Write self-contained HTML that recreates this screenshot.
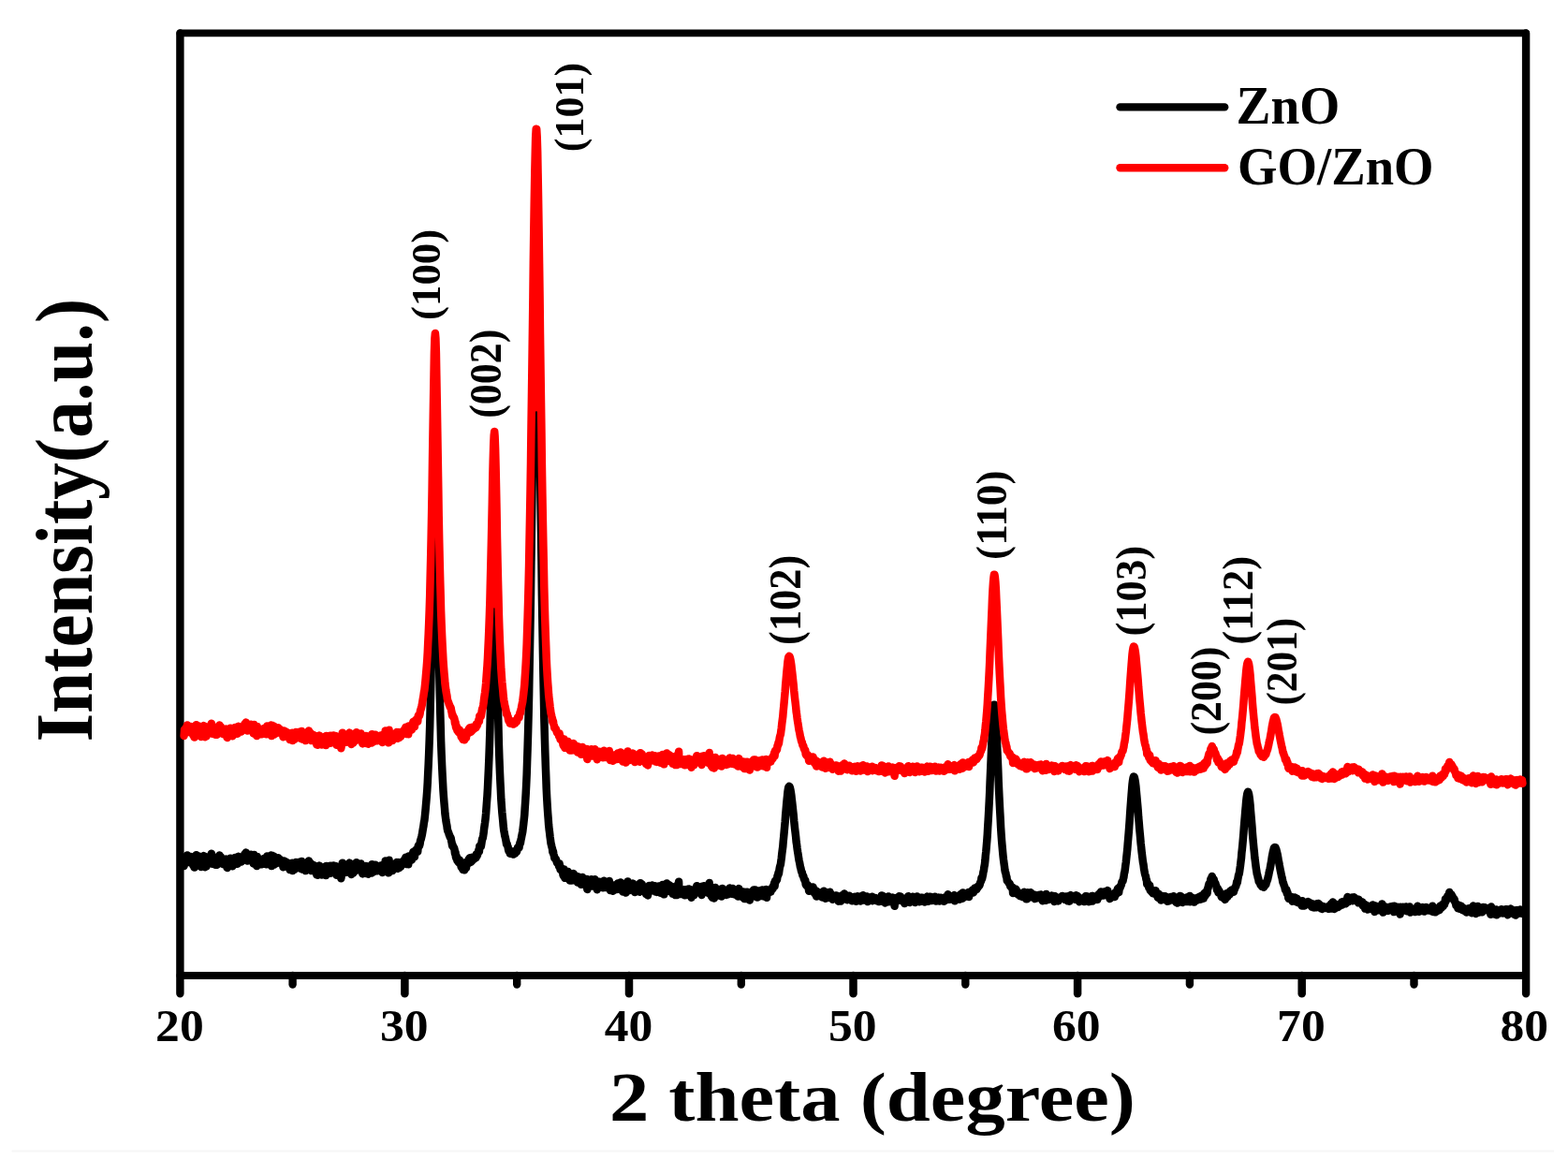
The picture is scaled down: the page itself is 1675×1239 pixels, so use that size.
<!DOCTYPE html>
<html lang="en"><head><meta charset="utf-8"><title>XRD patterns of ZnO and GO/ZnO</title>
<style>html,body{margin:0;padding:0;background:#fff}body{width:1675px;height:1239px;overflow:hidden}main,figure{margin:0;padding:0;display:block}svg{display:block}text{font-family:"Liberation Serif","DejaVu Serif",serif;font-weight:bold;fill:#000}</style></head><body>
<main><figure>
<svg width="1675" height="1239" viewBox="0 0 1675 1239" role="img" aria-label="XRD patterns of ZnO and GO/ZnO, intensity versus 2 theta">
<defs><filter id="soft" x="0" y="0" width="1675" height="1239" filterUnits="userSpaceOnUse"><feGaussianBlur stdDeviation="0.55"/></filter></defs>
<rect width="1675" height="1239" fill="#fff"/>
<g filter="url(#soft)">
<line x1="12.5" y1="1229.4" x2="1660" y2="1229.4" stroke="#f6f6f6" stroke-width="2"/>
<g fill="none" stroke="#000" stroke-linecap="round" stroke-linejoin="round">
<path d="M192.4,1061.3 V35.4 M1630.1,35.4 V1061.3" stroke-width="8.4"/>
<path d="M192.4,35.4 H1630.1 M192.4,1042 H1630.1" stroke-width="7.8"/>
<line x1="312.6" y1="1042" x2="312.6" y2="1051.6" stroke-width="8.4"/>
<line x1="432.4" y1="1042" x2="432.4" y2="1061.3" stroke-width="8.5"/>
<line x1="552.2" y1="1042" x2="552.2" y2="1051.6" stroke-width="8.4"/>
<line x1="672.0" y1="1042" x2="672.0" y2="1061.3" stroke-width="8.5"/>
<line x1="791.8" y1="1042" x2="791.8" y2="1051.6" stroke-width="8.4"/>
<line x1="911.5" y1="1042" x2="911.5" y2="1061.3" stroke-width="8.5"/>
<line x1="1031.3" y1="1042" x2="1031.3" y2="1051.6" stroke-width="8.4"/>
<line x1="1151.1" y1="1042" x2="1151.1" y2="1061.3" stroke-width="8.5"/>
<line x1="1270.9" y1="1042" x2="1270.9" y2="1051.6" stroke-width="8.4"/>
<line x1="1390.7" y1="1042" x2="1390.7" y2="1061.3" stroke-width="8.5"/>
<line x1="1510.5" y1="1042" x2="1510.5" y2="1051.6" stroke-width="8.4"/>
<line x1="1196.5" y1="114.4" x2="1308.2" y2="114.4" stroke-width="8.4"/>
<line x1="1196.5" y1="179.3" x2="1308.2" y2="179.3" stroke-width="8.4" stroke="#ff0000"/>
</g>
<g fill="none" stroke-width="8.5" stroke-linejoin="round" stroke-linecap="round">
<path stroke="#000" d="M196.6,925.0 L197.1,918.1 L197.5,919.4 L198.0,920.4 L198.5,916.4 L199.0,918.6 L199.4,918.9 L199.9,913.4 L200.4,921.1 L200.9,919.7 L201.4,916.8 L201.8,919.0 L202.3,921.1 L202.8,919.4 L203.3,918.9 L203.8,915.0 L204.2,921.3 L204.7,920.2 L205.2,921.0 L205.7,915.4 L206.2,924.3 L206.6,920.4 L207.1,918.9 L207.6,926.6 L208.1,920.5 L208.6,915.9 L209.0,918.8 L209.5,913.2 L210.0,923.2 L210.5,918.6 L210.9,917.6 L211.4,923.0 L211.9,915.5 L212.4,922.1 L212.9,914.7 L213.3,919.1 L213.8,917.1 L214.3,925.4 L214.8,926.0 L215.3,919.4 L215.7,923.2 L216.2,919.3 L216.7,920.9 L217.2,917.2 L217.7,914.1 L218.1,914.5 L218.6,920.3 L219.1,926.2 L219.6,920.5 L220.1,917.8 L220.5,925.2 L221.0,920.8 L221.5,920.9 L222.0,920.9 L222.4,919.6 L222.9,919.1 L223.4,914.9 L223.9,919.3 L224.4,917.5 L224.8,921.1 L225.3,916.6 L225.8,911.7 L226.3,917.6 L226.8,922.7 L227.2,916.7 L227.7,915.6 L228.2,915.7 L228.7,916.3 L229.2,918.6 L229.6,916.0 L230.1,923.7 L230.6,918.4 L231.1,919.3 L231.6,923.4 L232.0,923.7 L232.5,919.0 L233.0,919.7 L233.5,921.1 L233.9,918.3 L234.4,913.5 L234.9,920.0 L235.4,921.0 L235.9,919.4 L236.3,915.6 L236.8,917.3 L237.3,917.1 L237.8,917.8 L238.3,922.1 L238.7,923.3 L239.2,921.4 L239.7,920.8 L240.2,921.5 L240.7,919.6 L241.1,920.0 L241.6,917.6 L242.1,919.6 L242.6,926.9 L243.1,922.7 L243.5,919.4 L244.0,919.4 L244.5,918.3 L245.0,922.0 L245.4,921.9 L245.9,916.7 L246.4,922.9 L246.9,919.0 L247.4,924.9 L247.8,920.7 L248.3,925.2 L248.8,919.1 L249.3,919.1 L249.8,921.3 L250.2,923.2 L250.7,920.7 L251.2,915.9 L251.7,919.2 L252.2,919.5 L252.6,918.2 L253.1,916.0 L253.6,922.7 L254.1,915.6 L254.6,914.8 L255.0,918.9 L255.5,917.1 L256.0,917.1 L256.5,918.8 L256.9,917.9 L257.4,918.0 L257.9,920.6 L258.4,919.5 L258.9,916.2 L259.3,916.5 L259.8,915.6 L260.3,917.8 L260.8,914.2 L261.3,912.3 L261.7,917.9 L262.2,913.0 L262.7,910.6 L263.2,918.1 L263.7,915.8 L264.1,919.5 L264.6,916.3 L265.1,914.8 L265.6,914.2 L266.1,916.7 L266.5,917.5 L267.0,916.0 L267.5,916.2 L268.0,912.7 L268.4,918.1 L268.9,913.0 L269.4,917.2 L269.9,919.0 L270.4,920.7 L270.8,922.5 L271.3,913.0 L271.8,920.7 L272.3,921.7 L272.8,920.6 L273.2,915.5 L273.7,919.5 L274.2,925.1 L274.7,915.0 L275.2,921.1 L275.6,923.4 L276.1,918.4 L276.6,922.8 L277.1,918.3 L277.6,918.2 L278.0,919.1 L278.5,921.2 L279.0,920.0 L279.5,923.3 L279.9,917.8 L280.4,919.8 L280.9,922.6 L281.4,921.5 L281.9,917.1 L282.3,922.2 L282.8,918.6 L283.3,921.2 L283.8,920.9 L284.3,923.3 L284.7,919.9 L285.2,914.5 L285.7,916.1 L286.2,921.4 L286.7,918.7 L287.1,923.1 L287.6,920.7 L288.1,917.5 L288.6,922.4 L289.1,917.4 L289.5,913.6 L290.0,925.1 L290.5,913.8 L291.0,921.2 L291.4,922.1 L291.9,919.9 L292.4,914.5 L292.9,923.4 L293.4,915.6 L293.8,916.0 L294.3,919.4 L294.8,922.3 L295.3,920.6 L295.8,922.0 L296.2,918.0 L296.7,919.6 L297.2,916.3 L297.7,919.0 L298.2,921.4 L298.6,918.7 L299.1,921.3 L299.6,918.3 L300.1,918.9 L300.6,921.1 L301.0,919.9 L301.5,922.4 L302.0,921.4 L302.5,926.3 L302.9,920.4 L303.4,921.6 L303.9,919.6 L304.4,922.8 L304.9,924.8 L305.3,920.5 L305.8,922.5 L306.3,924.9 L306.8,922.4 L307.3,921.6 L307.7,925.3 L308.2,923.8 L308.7,925.3 L309.2,927.9 L309.7,929.1 L310.1,925.6 L310.6,925.0 L311.1,927.4 L311.6,926.3 L312.1,921.7 L312.5,930.1 L313.0,925.7 L313.5,928.4 L314.0,922.2 L314.4,928.7 L314.9,923.8 L315.4,925.5 L315.9,921.0 L316.4,923.4 L316.8,923.6 L317.3,923.4 L317.8,925.2 L318.3,924.2 L318.8,927.1 L319.2,922.9 L319.7,920.7 L320.2,924.2 L320.7,926.2 L321.2,927.9 L321.6,927.9 L322.1,920.0 L322.6,926.3 L323.1,928.6 L323.6,924.4 L324.0,923.4 L324.5,926.0 L325.0,924.4 L325.5,928.2 L325.9,925.8 L326.4,930.1 L326.9,927.0 L327.4,924.5 L327.9,928.5 L328.3,928.9 L328.8,924.9 L329.3,924.9 L329.8,919.4 L330.3,928.8 L330.7,924.5 L331.2,921.3 L331.7,922.1 L332.2,926.5 L332.7,930.0 L333.1,927.5 L333.6,929.1 L334.1,924.4 L334.6,923.8 L335.1,930.0 L335.5,927.6 L336.0,926.7 L336.5,931.1 L337.0,925.1 L337.4,927.0 L337.9,932.2 L338.4,934.5 L338.9,929.7 L339.4,934.7 L339.8,928.5 L340.3,930.8 L340.8,928.8 L341.3,924.6 L341.8,930.3 L342.2,931.7 L342.7,928.9 L343.2,929.4 L343.7,934.4 L344.2,927.2 L344.6,926.3 L345.1,929.7 L345.6,927.6 L346.1,933.5 L346.6,929.6 L347.0,926.4 L347.5,925.7 L348.0,935.0 L348.5,924.9 L348.9,925.3 L349.4,927.0 L349.9,928.5 L350.4,928.1 L350.9,926.2 L351.3,924.9 L351.8,930.7 L352.3,928.8 L352.8,924.8 L353.3,932.7 L353.7,932.0 L354.2,929.3 L354.7,928.6 L355.2,929.5 L355.7,926.6 L356.1,924.5 L356.6,929.8 L357.1,925.2 L357.6,930.2 L358.1,925.0 L358.5,928.6 L359.0,929.3 L359.5,934.8 L360.0,927.3 L360.4,927.1 L360.9,929.2 L361.4,926.9 L361.9,928.6 L362.4,931.3 L362.8,931.8 L363.3,934.5 L363.8,928.5 L364.3,938.3 L364.8,935.7 L365.2,927.9 L365.7,921.8 L366.2,928.1 L366.7,928.7 L367.2,923.1 L367.6,929.1 L368.1,927.8 L368.6,925.7 L369.1,930.0 L369.6,931.8 L370.0,927.8 L370.5,929.7 L371.0,927.2 L371.5,925.8 L371.9,928.4 L372.4,929.1 L372.9,926.1 L373.4,921.6 L373.9,930.3 L374.3,924.2 L374.8,929.0 L375.3,933.9 L375.8,928.6 L376.3,925.4 L376.7,925.4 L377.2,932.6 L377.7,929.1 L378.2,929.9 L378.7,930.9 L379.1,928.1 L379.6,927.5 L380.1,926.5 L380.6,921.2 L381.1,924.1 L381.5,927.9 L382.0,927.1 L382.5,929.3 L383.0,927.6 L383.4,928.2 L383.9,929.2 L384.4,923.9 L384.9,924.4 L385.4,922.4 L385.8,930.0 L386.3,928.6 L386.8,930.3 L387.3,933.4 L387.8,932.7 L388.2,930.4 L388.7,932.9 L389.2,926.2 L389.7,931.5 L390.2,930.6 L390.6,924.9 L391.1,933.1 L391.6,926.8 L392.1,930.6 L392.6,927.3 L393.0,932.2 L393.5,933.7 L394.0,927.2 L394.5,925.7 L394.9,929.2 L395.4,932.3 L395.9,929.8 L396.4,929.5 L396.9,932.5 L397.3,923.2 L397.8,928.7 L398.3,926.2 L398.8,931.2 L399.3,928.2 L399.7,926.4 L400.2,928.2 L400.7,923.8 L401.2,927.8 L401.7,925.6 L402.1,926.7 L402.6,925.5 L403.1,930.3 L403.6,927.6 L404.1,929.1 L404.5,928.7 L405.0,925.0 L405.5,928.1 L406.0,926.5 L406.4,926.2 L406.9,924.7 L407.4,924.2 L407.9,927.4 L408.4,932.0 L408.8,923.9 L409.3,927.9 L409.8,925.7 L410.3,929.7 L410.8,929.2 L411.2,931.1 L411.7,919.5 L412.2,924.9 L412.7,924.1 L413.2,926.2 L413.6,925.2 L414.1,925.7 L414.6,928.7 L415.1,932.3 L415.6,918.8 L416.0,926.8 L416.5,929.4 L417.0,927.3 L417.5,926.4 L417.9,923.5 L418.4,924.2 L418.9,929.3 L419.4,930.0 L419.9,926.6 L420.3,923.2 L420.8,925.5 L421.3,925.1 L421.8,927.1 L422.3,925.1 L422.7,923.4 L423.2,925.1 L423.7,921.0 L424.2,926.8 L424.7,927.7 L425.1,921.3 L425.6,925.5 L426.1,921.1 L426.6,926.9 L427.1,925.9 L427.5,922.8 L428.0,925.7 L428.5,922.0 L429.0,921.2 L429.4,920.8 L429.9,920.8 L430.4,920.5 L430.9,921.3 L431.4,918.8 L431.8,922.0 L432.3,922.5 L432.8,918.5 L433.3,915.8 L433.8,921.7 L434.2,923.1 L434.7,919.9 L435.2,917.0 L435.7,920.7 L436.2,923.3 L436.6,914.5 L437.1,919.3 L437.6,917.2 L438.1,915.3 L438.6,918.3 L439.0,913.7 L439.5,916.9 L440.0,918.4 L440.5,915.0 L440.9,912.2 L441.4,909.9 L441.9,910.7 L442.4,909.3 L442.9,915.0 L443.3,910.9 L443.8,908.8 L444.3,907.8 L444.8,908.1 L445.3,908.6 L445.7,906.5 L446.2,909.6 L446.7,903.9 L447.2,902.7 L447.7,903.0 L448.1,903.1 L448.6,901.3 L449.1,897.6 L449.6,896.6 L450.1,894.6 L450.5,893.0 L451.0,890.7 L451.5,887.5 L452.0,884.5 L452.4,882.4 L452.9,878.5 L453.4,876.3 L453.9,871.6 L454.4,866.8 L454.8,862.1 L455.3,856.5 L455.8,850.4 L456.3,843.7 L456.8,835.2 L457.2,826.1 L457.7,816.1 L458.2,804.2 L458.7,790.7 L459.2,775.3 L459.6,757.7 L460.1,737.7 L460.6,714.9 L461.1,689.5 L461.6,661.4 L462.0,631.1 L462.5,599.5 L463.0,568.2 L463.5,539.4 L463.9,515.9 L464.4,500.4 L464.9,495.0 L465.4,500.5 L465.9,516.1 L466.3,539.7 L466.8,568.6 L467.3,599.9 L467.8,631.6 L468.3,661.9 L468.7,690.1 L469.2,715.6 L469.7,738.4 L470.2,758.5 L470.7,776.2 L471.1,791.8 L471.6,805.2 L472.1,817.1 L472.6,827.6 L473.1,836.9 L473.5,844.7 L474.0,851.6 L474.5,858.0 L475.0,863.3 L475.4,868.9 L475.9,872.7 L476.4,876.5 L476.9,879.5 L477.4,881.8 L477.8,885.2 L478.3,887.5 L478.8,888.6 L479.3,889.7 L479.8,891.8 L480.2,892.1 L480.7,894.1 L481.2,894.2 L481.7,895.4 L482.2,898.4 L482.6,899.9 L483.1,903.5 L483.6,902.7 L484.1,904.8 L484.6,904.9 L485.0,905.5 L485.5,907.2 L486.0,911.8 L486.5,910.2 L486.9,915.1 L487.4,916.7 L487.9,914.9 L488.4,919.2 L488.9,917.7 L489.3,920.5 L489.8,918.4 L490.3,921.7 L490.8,918.5 L491.3,922.3 L491.7,920.9 L492.2,922.7 L492.7,926.1 L493.2,925.6 L493.7,925.7 L494.1,928.1 L494.6,928.9 L495.1,924.0 L495.6,929.1 L496.1,929.3 L496.5,924.2 L497.0,925.8 L497.5,921.1 L498.0,926.8 L498.4,921.7 L498.9,921.4 L499.4,923.1 L499.9,920.2 L500.4,920.9 L500.8,917.7 L501.3,918.3 L501.8,916.3 L502.3,918.1 L502.8,921.0 L503.2,919.2 L503.7,920.2 L504.2,915.8 L504.7,916.1 L505.2,916.7 L505.6,918.2 L506.1,917.4 L506.6,916.8 L507.1,917.0 L507.6,915.0 L508.0,914.6 L508.5,916.1 L509.0,912.2 L509.5,912.4 L509.9,913.8 L510.4,911.0 L510.9,910.8 L511.4,907.7 L511.9,909.5 L512.3,903.6 L512.8,904.0 L513.3,903.0 L513.8,904.2 L514.3,901.2 L514.7,898.6 L515.2,895.9 L515.7,895.2 L516.2,892.4 L516.7,889.1 L517.1,885.4 L517.6,881.9 L518.1,878.5 L518.6,874.2 L519.1,869.1 L519.5,863.3 L520.0,856.5 L520.5,849.7 L521.0,841.3 L521.4,832.1 L521.9,821.6 L522.4,809.4 L522.9,795.6 L523.4,780.3 L523.8,762.8 L524.3,743.3 L524.8,722.0 L525.3,699.4 L525.8,675.9 L526.2,652.9 L526.7,631.9 L527.2,614.9 L527.7,603.8 L528.2,599.9 L528.6,604.6 L529.1,617.9 L529.6,637.9 L530.1,661.9 L530.6,687.6 L531.0,713.1 L531.5,737.0 L532.0,758.9 L532.5,778.4 L532.9,795.6 L533.4,810.3 L533.9,823.7 L534.4,834.9 L534.9,844.5 L535.3,853.4 L535.8,860.5 L536.3,867.3 L536.8,872.4 L537.3,877.2 L537.7,882.3 L538.2,886.6 L538.7,889.2 L539.2,892.4 L539.7,894.2 L540.1,895.9 L540.6,898.6 L541.1,901.8 L541.6,901.1 L542.1,903.7 L542.5,903.8 L543.0,907.2 L543.5,909.0 L544.0,907.7 L544.4,909.3 L544.9,911.8 L545.4,910.8 L545.9,909.9 L546.4,910.0 L546.8,909.3 L547.3,912.2 L547.8,910.7 L548.3,912.6 L548.8,912.2 L549.2,910.6 L549.7,910.6 L550.2,911.7 L550.7,910.7 L551.2,910.5 L551.6,907.8 L552.1,909.6 L552.6,907.3 L553.1,905.0 L553.6,905.3 L554.0,905.1 L554.5,905.3 L555.0,902.0 L555.5,899.9 L555.9,900.7 L556.4,897.4 L556.9,895.1 L557.4,892.5 L557.9,890.1 L558.3,888.1 L558.8,883.8 L559.3,879.7 L559.8,875.0 L560.3,870.2 L560.7,863.3 L561.2,856.3 L561.7,847.8 L562.2,838.0 L562.7,826.6 L563.1,813.8 L563.6,799.0 L564.1,782.1 L564.6,763.1 L565.1,742.0 L565.5,718.5 L566.0,692.6 L566.5,664.3 L567.0,633.8 L567.4,601.1 L567.9,566.5 L568.4,530.5 L568.9,493.5 L569.4,456.2 L569.8,419.4 L570.3,384.2 L570.8,351.8 L571.3,323.6 L571.8,300.9 L572.2,284.9 L572.7,276.7 L573.2,276.8 L573.7,285.2 L574.2,301.3 L574.6,324.2 L575.1,352.6 L575.6,385.2 L576.1,420.5 L576.6,457.5 L577.0,495.0 L577.5,532.1 L578.0,568.4 L578.5,603.1 L578.9,635.9 L579.4,666.7 L579.9,695.1 L580.4,721.2 L580.9,744.9 L581.3,766.4 L581.8,785.5 L582.3,802.5 L582.8,817.4 L583.3,830.5 L583.7,842.2 L584.2,852.2 L584.7,860.9 L585.2,868.5 L585.7,874.8 L586.1,880.8 L586.6,885.6 L587.1,889.4 L587.6,894.0 L588.1,897.5 L588.5,900.7 L589.0,902.6 L589.5,904.8 L590.0,906.4 L590.4,910.3 L590.9,909.2 L591.4,912.5 L591.9,914.0 L592.4,916.6 L592.8,916.9 L593.3,916.9 L593.8,917.6 L594.3,919.1 L594.8,920.7 L595.2,921.8 L595.7,922.2 L596.2,922.2 L596.7,923.4 L597.2,925.6 L597.6,922.5 L598.1,925.2 L598.6,928.9 L599.1,927.9 L599.6,926.8 L600.0,929.7 L600.5,927.9 L601.0,930.3 L601.5,934.4 L601.9,935.4 L602.4,928.4 L602.9,934.3 L603.4,937.8 L603.9,932.7 L604.3,934.9 L604.8,937.3 L605.3,933.4 L605.8,936.2 L606.3,934.9 L606.7,930.9 L607.2,936.1 L607.7,934.9 L608.2,937.5 L608.7,940.6 L609.1,938.1 L609.6,935.6 L610.1,938.0 L610.6,938.5 L611.1,940.4 L611.5,934.5 L612.0,935.0 L612.5,933.1 L613.0,940.3 L613.4,939.2 L613.9,937.8 L614.4,936.7 L614.9,937.1 L615.4,935.6 L615.8,937.7 L616.3,937.6 L616.8,942.4 L617.3,939.5 L617.8,936.4 L618.2,937.3 L618.7,942.4 L619.2,941.0 L619.7,941.3 L620.2,942.2 L620.6,944.7 L621.1,938.3 L621.6,939.5 L622.1,936.9 L622.6,942.9 L623.0,941.0 L623.5,940.3 L624.0,940.1 L624.5,944.3 L624.9,942.1 L625.4,940.7 L625.9,946.3 L626.4,939.2 L626.9,939.0 L627.3,949.9 L627.8,942.1 L628.3,941.7 L628.8,940.7 L629.3,942.7 L629.7,945.3 L630.2,945.7 L630.7,945.4 L631.2,943.0 L631.7,939.2 L632.1,943.7 L632.6,946.5 L633.1,945.9 L633.6,942.2 L634.1,944.6 L634.5,941.5 L635.0,942.6 L635.5,939.3 L636.0,942.6 L636.4,943.8 L636.9,944.1 L637.4,947.1 L637.9,950.2 L638.4,948.6 L638.8,943.6 L639.3,942.6 L639.8,943.1 L640.3,941.7 L640.8,944.9 L641.2,945.4 L641.7,944.5 L642.2,944.7 L642.7,944.4 L643.2,943.5 L643.6,941.9 L644.1,948.2 L644.6,945.9 L645.1,940.8 L645.6,941.0 L646.0,942.0 L646.5,943.6 L647.0,948.1 L647.5,947.5 L647.9,947.1 L648.4,947.8 L648.9,948.2 L649.4,946.9 L649.9,946.2 L650.3,945.1 L650.8,941.0 L651.3,944.9 L651.8,950.9 L652.3,946.0 L652.7,945.4 L653.2,950.8 L653.7,948.2 L654.2,946.9 L654.7,951.7 L655.1,948.6 L655.6,949.6 L656.1,945.5 L656.6,947.3 L657.1,947.8 L657.5,949.0 L658.0,950.2 L658.5,949.7 L659.0,947.5 L659.4,949.9 L659.9,943.5 L660.4,947.9 L660.9,947.9 L661.4,944.6 L661.8,943.2 L662.3,945.2 L662.8,942.4 L663.3,946.8 L663.8,946.6 L664.2,945.2 L664.7,948.8 L665.2,952.4 L665.7,951.9 L666.2,952.3 L666.6,948.9 L667.1,948.4 L667.6,948.1 L668.1,950.1 L668.6,953.5 L669.0,950.3 L669.5,949.9 L670.0,950.1 L670.5,941.4 L670.9,945.7 L671.4,945.1 L671.9,949.5 L672.4,951.0 L672.9,944.3 L673.3,946.4 L673.8,948.3 L674.3,944.8 L674.8,944.3 L675.3,943.9 L675.7,948.0 L676.2,943.6 L676.7,949.8 L677.2,948.1 L677.7,950.7 L678.1,953.0 L678.6,946.9 L679.1,946.9 L679.6,950.8 L680.1,947.4 L680.5,948.7 L681.0,950.2 L681.5,950.2 L682.0,945.3 L682.4,948.3 L682.9,951.2 L683.4,952.8 L683.9,943.2 L684.4,951.9 L684.8,950.1 L685.3,945.2 L685.8,944.2 L686.3,951.0 L686.8,948.3 L687.2,949.5 L687.7,952.0 L688.2,949.5 L688.7,951.2 L689.2,952.5 L689.6,952.2 L690.1,955.1 L690.6,953.6 L691.1,949.6 L691.6,949.1 L692.0,956.4 L692.5,951.0 L693.0,950.4 L693.5,945.9 L693.9,952.2 L694.4,948.2 L694.9,949.7 L695.4,947.4 L695.9,948.8 L696.3,950.0 L696.8,945.5 L697.3,947.3 L697.8,949.9 L698.3,946.9 L698.7,946.9 L699.2,947.8 L699.7,946.3 L700.2,952.5 L700.7,948.6 L701.1,952.7 L701.6,952.9 L702.1,946.9 L702.6,950.3 L703.1,948.4 L703.5,946.4 L704.0,949.1 L704.5,949.3 L705.0,951.9 L705.4,953.8 L705.9,948.5 L706.4,950.4 L706.9,952.6 L707.4,954.3 L707.8,945.0 L708.3,954.9 L708.8,951.1 L709.3,955.3 L709.8,949.5 L710.2,948.0 L710.7,950.3 L711.2,952.9 L711.7,949.8 L712.2,943.4 L712.6,952.1 L713.1,945.4 L713.6,947.6 L714.1,946.8 L714.6,945.1 L715.0,946.7 L715.5,948.0 L716.0,949.6 L716.5,950.9 L716.9,950.3 L717.4,946.7 L717.9,950.4 L718.4,954.6 L718.9,954.0 L719.3,952.5 L719.8,954.1 L720.3,954.9 L720.8,955.7 L721.3,956.0 L721.7,950.6 L722.2,951.5 L722.7,955.8 L723.2,956.1 L723.7,955.9 L724.1,944.5 L724.6,950.0 L725.1,941.8 L725.6,953.6 L726.1,952.2 L726.5,951.6 L727.0,950.3 L727.5,954.9 L728.0,950.2 L728.4,954.4 L728.9,953.3 L729.4,953.0 L729.9,953.2 L730.4,952.7 L730.8,950.2 L731.3,956.3 L731.8,956.1 L732.3,953.2 L732.8,956.0 L733.2,955.7 L733.7,949.9 L734.2,953.4 L734.7,951.8 L735.2,950.0 L735.6,953.0 L736.1,949.5 L736.6,951.4 L737.1,952.7 L737.6,953.8 L738.0,953.1 L738.5,958.7 L739.0,951.3 L739.5,953.8 L739.9,950.4 L740.4,955.2 L740.9,956.4 L741.4,956.2 L741.9,950.9 L742.3,950.9 L742.8,954.4 L743.3,949.5 L743.8,951.7 L744.3,946.2 L744.7,952.8 L745.2,952.0 L745.7,951.0 L746.2,947.6 L746.7,949.9 L747.1,951.1 L747.6,952.3 L748.1,951.1 L748.6,950.1 L749.1,952.1 L749.5,955.9 L750.0,946.7 L750.5,948.1 L751.0,948.0 L751.4,949.9 L751.9,946.3 L752.4,953.0 L752.9,951.8 L753.4,949.9 L753.8,948.0 L754.3,950.3 L754.8,950.5 L755.3,950.5 L755.8,948.8 L756.2,952.7 L756.7,947.0 L757.2,954.4 L757.7,943.1 L758.2,950.5 L758.6,949.0 L759.1,954.7 L759.6,948.7 L760.1,957.7 L760.6,948.9 L761.0,958.8 L761.5,954.7 L762.0,953.0 L762.5,954.2 L762.9,959.4 L763.4,956.3 L763.9,948.0 L764.4,957.3 L764.9,954.9 L765.3,949.5 L765.8,956.8 L766.3,951.7 L766.8,954.7 L767.3,954.5 L767.7,951.1 L768.2,954.7 L768.7,950.1 L769.2,953.1 L769.7,951.4 L770.1,952.3 L770.6,957.6 L771.1,952.5 L771.6,948.9 L772.1,951.9 L772.5,950.8 L773.0,953.1 L773.5,953.8 L774.0,953.5 L774.4,952.3 L774.9,950.6 L775.4,954.0 L775.9,955.9 L776.4,951.2 L776.8,952.1 L777.3,952.3 L777.8,955.3 L778.3,954.7 L778.8,950.1 L779.2,953.3 L779.7,948.4 L780.2,950.1 L780.7,953.3 L781.2,954.3 L781.6,954.8 L782.1,952.0 L782.6,949.0 L783.1,954.1 L783.6,952.1 L784.0,955.1 L784.5,954.4 L785.0,955.5 L785.5,955.6 L785.9,955.8 L786.4,952.0 L786.9,955.6 L787.4,951.5 L787.9,953.4 L788.3,957.5 L788.8,953.0 L789.3,949.1 L789.8,957.3 L790.3,956.1 L790.7,956.4 L791.2,954.6 L791.7,955.3 L792.2,953.0 L792.7,952.4 L793.1,958.4 L793.6,953.2 L794.1,952.4 L794.6,953.8 L795.1,960.1 L795.5,958.3 L796.0,954.7 L796.5,956.1 L797.0,958.0 L797.4,959.2 L797.9,952.7 L798.4,960.2 L798.9,956.4 L799.4,955.0 L799.8,955.0 L800.3,958.7 L800.8,961.5 L801.3,957.3 L801.8,958.4 L802.2,954.5 L802.7,957.1 L803.2,958.0 L803.7,952.1 L804.2,954.6 L804.6,957.3 L805.1,950.4 L805.6,953.3 L806.1,956.2 L806.6,950.4 L807.0,953.9 L807.5,955.4 L808.0,958.1 L808.5,952.5 L808.9,958.6 L809.4,956.2 L809.9,957.9 L810.4,957.4 L810.9,955.8 L811.3,956.9 L811.8,951.3 L812.3,951.5 L812.8,952.5 L813.3,953.6 L813.7,957.1 L814.2,950.6 L814.7,953.9 L815.2,951.5 L815.7,950.9 L816.1,957.6 L816.6,954.5 L817.1,957.1 L817.6,956.1 L818.1,951.6 L818.5,950.0 L819.0,958.8 L819.5,952.8 L820.0,950.7 L820.4,954.3 L820.9,952.6 L821.4,951.9 L821.9,952.1 L822.4,952.5 L822.8,951.5 L823.3,952.7 L823.8,949.8 L824.3,948.8 L824.8,950.1 L825.2,949.3 L825.7,949.1 L826.2,945.9 L826.7,945.4 L827.2,942.8 L827.6,946.3 L828.1,940.7 L828.6,942.2 L829.1,939.7 L829.6,940.2 L830.0,939.8 L830.5,935.6 L831.0,935.5 L831.5,932.2 L831.9,933.5 L832.4,929.6 L832.9,926.5 L833.4,924.6 L833.9,923.2 L834.3,920.0 L834.8,916.5 L835.3,911.8 L835.8,907.9 L836.3,904.1 L836.7,898.8 L837.2,893.8 L837.7,888.4 L838.2,882.8 L838.7,877.4 L839.1,871.4 L839.6,865.5 L840.1,859.9 L840.6,854.5 L841.1,849.7 L841.5,845.5 L842.0,842.4 L842.5,840.4 L843.0,839.9 L843.4,840.2 L843.9,841.4 L844.4,843.5 L844.9,846.4 L845.4,849.8 L845.8,853.8 L846.3,857.8 L846.8,862.4 L847.3,867.1 L847.8,871.8 L848.2,876.7 L848.7,881.5 L849.2,886.0 L849.7,890.0 L850.2,894.3 L850.6,899.0 L851.1,902.2 L851.6,906.3 L852.1,909.7 L852.6,912.6 L853.0,915.3 L853.5,918.7 L854.0,920.7 L854.5,923.4 L854.9,925.9 L855.4,927.3 L855.9,929.8 L856.4,931.5 L856.9,932.0 L857.3,934.7 L857.8,935.5 L858.3,935.7 L858.8,938.5 L859.3,939.6 L859.7,940.5 L860.2,940.1 L860.7,944.4 L861.2,945.5 L861.7,946.1 L862.1,946.5 L862.6,944.8 L863.1,947.4 L863.6,946.6 L864.1,951.7 L864.5,948.1 L865.0,950.1 L865.5,947.3 L866.0,948.0 L866.4,949.3 L866.9,951.1 L867.4,951.0 L867.9,950.7 L868.4,947.4 L868.8,951.8 L869.3,949.2 L869.8,953.3 L870.3,954.4 L870.8,953.3 L871.2,954.3 L871.7,951.4 L872.2,957.6 L872.7,954.7 L873.2,956.0 L873.6,953.2 L874.1,954.7 L874.6,953.1 L875.1,954.5 L875.6,954.8 L876.0,955.4 L876.5,957.2 L877.0,955.4 L877.5,955.7 L877.9,955.5 L878.4,958.5 L878.9,954.1 L879.4,956.4 L879.9,951.8 L880.3,953.8 L880.8,955.4 L881.3,954.8 L881.8,959.7 L882.3,959.2 L882.7,952.9 L883.2,954.0 L883.7,955.9 L884.2,959.0 L884.7,958.0 L885.1,957.4 L885.6,954.4 L886.1,955.6 L886.6,952.7 L887.1,954.7 L887.5,958.2 L888.0,959.3 L888.5,955.9 L889.0,958.2 L889.4,960.7 L889.9,958.8 L890.4,957.8 L890.9,959.0 L891.4,958.5 L891.8,957.5 L892.3,956.6 L892.8,956.6 L893.3,957.5 L893.8,956.5 L894.2,960.0 L894.7,959.3 L895.2,960.7 L895.7,962.7 L896.2,961.9 L896.6,961.5 L897.1,959.7 L897.6,958.7 L898.1,962.6 L898.6,957.7 L899.0,957.8 L899.5,956.3 L900.0,957.4 L900.5,957.7 L900.9,958.4 L901.4,957.0 L901.9,954.4 L902.4,957.8 L902.9,958.8 L903.3,957.7 L903.8,958.1 L904.3,959.9 L904.8,961.2 L905.3,959.2 L905.7,957.1 L906.2,958.7 L906.7,959.4 L907.2,956.7 L907.7,960.4 L908.1,958.1 L908.6,960.0 L909.1,960.0 L909.6,959.3 L910.1,962.2 L910.5,958.6 L911.0,958.3 L911.5,959.9 L912.0,960.8 L912.4,959.1 L912.9,957.8 L913.4,960.3 L913.9,960.1 L914.4,962.8 L914.8,958.9 L915.3,959.6 L915.8,958.5 L916.3,957.3 L916.8,960.2 L917.2,961.4 L917.7,958.7 L918.2,958.8 L918.7,957.6 L919.2,962.4 L919.6,959.6 L920.1,961.4 L920.6,959.2 L921.1,960.8 L921.6,959.3 L922.0,956.2 L922.5,960.6 L923.0,961.5 L923.5,957.5 L923.9,960.4 L924.4,960.4 L924.9,959.0 L925.4,959.9 L925.9,957.4 L926.3,961.3 L926.8,963.1 L927.3,959.1 L927.8,960.6 L928.3,962.3 L928.7,960.4 L929.2,959.2 L929.7,959.1 L930.2,961.2 L930.7,960.2 L931.1,960.8 L931.6,957.7 L932.1,962.2 L932.6,960.3 L933.1,961.5 L933.5,959.7 L934.0,958.8 L934.5,959.5 L935.0,959.0 L935.4,960.4 L935.9,961.9 L936.4,962.2 L936.9,960.9 L937.4,960.1 L937.8,960.4 L938.3,961.8 L938.8,963.0 L939.3,960.5 L939.8,960.7 L940.2,959.7 L940.7,961.5 L941.2,962.7 L941.7,956.5 L942.2,961.5 L942.6,960.1 L943.1,957.0 L943.6,961.8 L944.1,961.0 L944.6,961.6 L945.0,958.9 L945.5,964.4 L946.0,961.2 L946.5,960.0 L946.9,963.3 L947.4,961.9 L947.9,962.3 L948.4,962.7 L948.9,957.4 L949.3,963.2 L949.8,960.3 L950.3,961.3 L950.8,962.5 L951.3,959.3 L951.7,961.5 L952.2,961.9 L952.7,961.0 L953.2,962.0 L953.7,958.6 L954.1,959.2 L954.6,959.3 L955.1,962.1 L955.6,967.8 L956.1,961.7 L956.5,961.2 L957.0,961.3 L957.5,962.9 L958.0,962.0 L958.4,958.7 L958.9,962.1 L959.4,960.1 L959.9,961.4 L960.4,957.3 L960.8,957.9 L961.3,961.1 L961.8,957.4 L962.3,961.7 L962.8,961.7 L963.2,961.0 L963.7,961.2 L964.2,961.1 L964.7,961.2 L965.2,959.5 L965.6,960.3 L966.1,964.9 L966.6,962.1 L967.1,961.4 L967.6,961.5 L968.0,959.8 L968.5,960.8 L969.0,960.0 L969.5,962.6 L969.9,959.3 L970.4,957.2 L970.9,959.6 L971.4,961.2 L971.9,964.0 L972.3,961.7 L972.8,958.8 L973.3,959.9 L973.8,958.4 L974.3,960.1 L974.7,958.5 L975.2,957.7 L975.7,961.4 L976.2,961.2 L976.7,960.3 L977.1,961.3 L977.6,964.0 L978.1,960.9 L978.6,959.8 L979.1,961.9 L979.5,957.5 L980.0,961.1 L980.5,958.5 L981.0,959.1 L981.4,960.3 L981.9,963.2 L982.4,959.4 L982.9,962.5 L983.4,961.5 L983.8,958.8 L984.3,962.7 L984.8,959.9 L985.3,958.7 L985.8,960.0 L986.2,960.0 L986.7,962.2 L987.2,959.7 L987.7,963.5 L988.2,961.3 L988.6,960.0 L989.1,960.0 L989.6,961.8 L990.1,958.0 L990.6,957.6 L991.0,960.1 L991.5,962.8 L992.0,961.8 L992.5,961.8 L992.9,961.2 L993.4,957.8 L993.9,960.5 L994.4,958.0 L994.9,962.1 L995.3,960.0 L995.8,959.4 L996.3,960.4 L996.8,959.9 L997.3,959.8 L997.7,960.3 L998.2,958.8 L998.7,957.7 L999.2,960.6 L999.7,962.4 L1000.1,962.4 L1000.6,959.9 L1001.1,960.9 L1001.6,958.8 L1002.1,960.0 L1002.5,958.6 L1003.0,959.7 L1003.5,962.5 L1004.0,960.5 L1004.4,961.3 L1004.9,958.7 L1005.4,958.8 L1005.9,960.5 L1006.4,961.5 L1006.8,960.1 L1007.3,962.2 L1007.8,959.6 L1008.3,962.8 L1008.8,962.2 L1009.2,958.5 L1009.7,961.5 L1010.2,959.8 L1010.7,961.4 L1011.2,958.9 L1011.6,960.3 L1012.1,960.5 L1012.6,955.2 L1013.1,956.5 L1013.6,959.5 L1014.0,959.0 L1014.5,960.7 L1015.0,959.6 L1015.5,957.7 L1015.9,959.8 L1016.4,958.4 L1016.9,959.0 L1017.4,958.4 L1017.9,960.0 L1018.3,957.4 L1018.8,957.9 L1019.3,956.1 L1019.8,962.3 L1020.3,957.4 L1020.7,957.3 L1021.2,956.8 L1021.7,958.0 L1022.2,958.0 L1022.7,959.2 L1023.1,958.7 L1023.6,958.9 L1024.1,957.7 L1024.6,958.8 L1025.1,960.7 L1025.5,958.8 L1026.0,958.8 L1026.5,954.9 L1027.0,959.0 L1027.4,958.2 L1027.9,959.8 L1028.4,953.4 L1028.9,957.3 L1029.4,957.4 L1029.8,957.1 L1030.3,955.9 L1030.8,957.2 L1031.3,957.9 L1031.8,957.0 L1032.2,956.1 L1032.7,956.2 L1033.2,955.7 L1033.7,956.1 L1034.2,955.2 L1034.6,953.1 L1035.1,957.9 L1035.6,953.1 L1036.1,954.9 L1036.6,953.0 L1037.0,954.0 L1037.5,952.8 L1038.0,953.2 L1038.5,951.7 L1038.9,950.5 L1039.4,952.5 L1039.9,953.4 L1040.4,951.7 L1040.9,950.8 L1041.3,948.6 L1041.8,949.5 L1042.3,950.0 L1042.8,948.0 L1043.3,950.1 L1043.7,948.3 L1044.2,948.6 L1044.7,946.9 L1045.2,946.1 L1045.7,946.5 L1046.1,946.0 L1046.6,945.1 L1047.1,942.8 L1047.6,941.8 L1048.1,940.8 L1048.5,937.5 L1049.0,938.8 L1049.5,936.5 L1050.0,934.3 L1050.4,931.4 L1050.9,929.7 L1051.4,925.8 L1051.9,923.4 L1052.4,919.0 L1052.8,914.0 L1053.3,909.7 L1053.8,903.9 L1054.3,897.9 L1054.8,891.1 L1055.2,883.6 L1055.7,875.4 L1056.2,866.5 L1056.7,856.7 L1057.2,846.2 L1057.6,835.2 L1058.1,823.7 L1058.6,812.0 L1059.1,800.3 L1059.6,788.9 L1060.0,778.1 L1060.5,768.7 L1061.0,761.0 L1061.5,755.6 L1061.9,752.8 L1062.4,752.8 L1062.9,755.6 L1063.4,761.0 L1063.9,768.7 L1064.3,778.1 L1064.8,788.8 L1065.3,800.1 L1065.8,811.9 L1066.3,823.7 L1066.7,835.1 L1067.2,846.2 L1067.7,856.5 L1068.2,866.4 L1068.7,875.2 L1069.1,883.6 L1069.6,891.3 L1070.1,898.3 L1070.6,903.9 L1071.1,909.7 L1071.5,913.8 L1072.0,918.3 L1072.5,922.0 L1073.0,925.5 L1073.4,929.0 L1073.9,931.9 L1074.4,932.5 L1074.9,936.2 L1075.4,936.6 L1075.8,940.8 L1076.3,940.6 L1076.8,941.8 L1077.3,942.4 L1077.8,943.4 L1078.2,944.0 L1078.7,944.0 L1079.2,946.3 L1079.7,946.2 L1080.2,947.7 L1080.6,947.4 L1081.1,949.0 L1081.6,947.5 L1082.1,954.1 L1082.6,948.9 L1083.0,949.7 L1083.5,952.2 L1084.0,953.2 L1084.5,950.7 L1084.9,949.6 L1085.4,950.1 L1085.9,951.2 L1086.4,951.6 L1086.9,952.9 L1087.3,955.2 L1087.8,955.7 L1088.3,953.6 L1088.8,955.3 L1089.3,956.2 L1089.7,957.2 L1090.2,955.2 L1090.7,954.5 L1091.2,956.7 L1091.7,957.6 L1092.1,954.5 L1092.6,958.0 L1093.1,957.3 L1093.6,954.6 L1094.1,952.8 L1094.5,954.4 L1095.0,955.1 L1095.5,956.9 L1096.0,953.9 L1096.4,960.2 L1096.9,960.2 L1097.4,955.6 L1097.9,953.3 L1098.4,956.1 L1098.8,957.1 L1099.3,958.4 L1099.8,957.2 L1100.3,955.9 L1100.8,953.2 L1101.2,957.3 L1101.7,958.3 L1102.2,956.7 L1102.7,957.4 L1103.2,957.2 L1103.6,956.9 L1104.1,956.0 L1104.6,958.3 L1105.1,955.7 L1105.6,960.1 L1106.0,956.7 L1106.5,959.2 L1107.0,957.7 L1107.5,959.2 L1107.9,958.4 L1108.4,959.2 L1108.9,956.9 L1109.4,956.0 L1109.9,958.0 L1110.3,957.9 L1110.8,955.9 L1111.3,957.3 L1111.8,955.4 L1112.3,958.0 L1112.7,956.9 L1113.2,958.1 L1113.7,962.2 L1114.2,958.7 L1114.7,958.9 L1115.1,959.7 L1115.6,958.7 L1116.1,958.7 L1116.6,960.9 L1117.1,961.8 L1117.5,954.9 L1118.0,958.8 L1118.5,958.4 L1119.0,958.2 L1119.4,961.1 L1119.9,957.8 L1120.4,959.7 L1120.9,957.3 L1121.4,957.2 L1121.8,959.4 L1122.3,957.4 L1122.8,958.4 L1123.3,956.6 L1123.8,956.9 L1124.2,959.4 L1124.7,959.7 L1125.2,957.2 L1125.7,957.1 L1126.2,962.9 L1126.6,957.8 L1127.1,957.3 L1127.6,960.4 L1128.1,958.5 L1128.6,959.1 L1129.0,960.8 L1129.5,961.3 L1130.0,959.6 L1130.5,962.4 L1130.9,959.8 L1131.4,959.4 L1131.9,958.9 L1132.4,958.4 L1132.9,959.8 L1133.3,959.5 L1133.8,957.7 L1134.3,958.7 L1134.8,957.0 L1135.3,957.0 L1135.7,957.9 L1136.2,960.0 L1136.7,958.9 L1137.2,960.6 L1137.7,961.1 L1138.1,958.5 L1138.6,957.6 L1139.1,958.1 L1139.6,959.8 L1140.1,960.7 L1140.5,962.2 L1141.0,957.2 L1141.5,960.6 L1142.0,960.6 L1142.4,962.7 L1142.9,959.3 L1143.4,958.7 L1143.9,956.1 L1144.4,957.4 L1144.8,956.8 L1145.3,957.2 L1145.8,957.6 L1146.3,956.9 L1146.8,959.1 L1147.2,959.6 L1147.7,960.2 L1148.2,958.7 L1148.7,960.6 L1149.2,960.5 L1149.6,956.3 L1150.1,958.2 L1150.6,956.7 L1151.1,957.1 L1151.6,959.5 L1152.0,959.1 L1152.5,962.1 L1153.0,963.2 L1153.5,960.6 L1153.9,959.6 L1154.4,960.1 L1154.9,960.3 L1155.4,961.5 L1155.9,959.6 L1156.3,961.2 L1156.8,959.7 L1157.3,961.7 L1157.8,962.2 L1158.3,963.1 L1158.7,959.8 L1159.2,958.0 L1159.7,957.2 L1160.2,959.2 L1160.7,957.6 L1161.1,957.4 L1161.6,959.4 L1162.1,958.4 L1162.6,960.9 L1163.1,963.2 L1163.5,959.6 L1164.0,960.5 L1164.5,957.7 L1165.0,960.8 L1165.4,959.3 L1165.9,958.8 L1166.4,957.1 L1166.9,962.6 L1167.4,957.0 L1167.8,958.0 L1168.3,960.1 L1168.8,960.7 L1169.3,960.3 L1169.8,959.9 L1170.2,957.9 L1170.7,960.7 L1171.2,959.5 L1171.7,957.0 L1172.2,960.9 L1172.6,957.6 L1173.1,959.1 L1173.6,955.1 L1174.1,955.2 L1174.6,955.8 L1175.0,955.4 L1175.5,957.1 L1176.0,952.6 L1176.5,955.1 L1176.9,952.8 L1177.4,954.4 L1177.9,953.8 L1178.4,952.7 L1178.9,956.6 L1179.3,953.3 L1179.8,955.5 L1180.3,952.3 L1180.8,954.3 L1181.3,955.2 L1181.7,955.5 L1182.2,955.1 L1182.7,954.4 L1183.2,951.1 L1183.7,955.6 L1184.1,955.3 L1184.6,955.9 L1185.1,958.2 L1185.6,960.0 L1186.1,957.2 L1186.5,957.5 L1187.0,957.2 L1187.5,957.3 L1188.0,956.7 L1188.4,955.5 L1188.9,955.3 L1189.4,955.7 L1189.9,958.1 L1190.4,956.6 L1190.8,958.0 L1191.3,953.2 L1191.8,955.1 L1192.3,955.1 L1192.8,954.7 L1193.2,951.7 L1193.7,950.1 L1194.2,948.8 L1194.7,950.4 L1195.2,953.1 L1195.6,949.7 L1196.1,947.2 L1196.6,948.0 L1197.1,946.2 L1197.6,945.7 L1198.0,944.2 L1198.5,941.9 L1199.0,941.4 L1199.5,941.0 L1199.9,938.7 L1200.4,937.1 L1200.9,932.9 L1201.4,931.4 L1201.9,927.8 L1202.3,924.4 L1202.8,921.0 L1203.3,916.0 L1203.8,911.5 L1204.3,906.7 L1204.7,901.3 L1205.2,895.6 L1205.7,889.6 L1206.2,883.1 L1206.7,876.3 L1207.1,869.7 L1207.6,862.6 L1208.1,855.9 L1208.6,849.3 L1209.1,843.2 L1209.5,838.1 L1210.0,834.0 L1210.5,831.1 L1211.0,829.5 L1211.4,829.5 L1211.9,830.7 L1212.4,832.9 L1212.9,836.0 L1213.4,840.0 L1213.8,844.7 L1214.3,849.8 L1214.8,855.6 L1215.3,861.2 L1215.8,867.2 L1216.2,873.2 L1216.7,878.7 L1217.2,884.8 L1217.7,890.2 L1218.2,895.5 L1218.6,900.4 L1219.1,904.8 L1219.6,909.7 L1220.1,913.8 L1220.6,917.9 L1221.0,921.2 L1221.5,923.5 L1222.0,927.7 L1222.5,930.4 L1222.9,932.8 L1223.4,934.8 L1223.9,935.9 L1224.4,939.1 L1224.9,940.0 L1225.3,944.6 L1225.8,942.9 L1226.3,943.4 L1226.8,945.3 L1227.3,948.3 L1227.7,946.9 L1228.2,945.6 L1228.7,951.0 L1229.2,950.6 L1229.7,950.1 L1230.1,952.5 L1230.6,950.8 L1231.1,951.2 L1231.6,954.2 L1232.1,952.9 L1232.5,954.3 L1233.0,953.7 L1233.5,954.8 L1234.0,954.4 L1234.4,951.2 L1234.9,955.6 L1235.4,953.7 L1235.9,956.6 L1236.4,955.7 L1236.8,958.7 L1237.3,957.0 L1237.8,954.6 L1238.3,957.4 L1238.8,958.9 L1239.2,958.1 L1239.7,958.3 L1240.2,961.5 L1240.7,959.2 L1241.2,960.8 L1241.6,959.0 L1242.1,957.0 L1242.6,957.8 L1243.1,959.1 L1243.6,959.9 L1244.0,958.4 L1244.5,957.2 L1245.0,957.8 L1245.5,958.6 L1245.9,958.2 L1246.4,958.6 L1246.9,962.7 L1247.4,960.5 L1247.9,958.6 L1248.3,960.0 L1248.8,962.4 L1249.3,961.3 L1249.8,960.1 L1250.3,958.5 L1250.7,958.1 L1251.2,960.1 L1251.7,960.3 L1252.2,958.0 L1252.7,958.4 L1253.1,960.6 L1253.6,957.3 L1254.1,958.6 L1254.6,961.3 L1255.1,962.4 L1255.5,961.8 L1256.0,963.1 L1256.5,964.0 L1257.0,962.8 L1257.4,961.0 L1257.9,964.5 L1258.4,963.6 L1258.9,962.4 L1259.4,959.4 L1259.8,961.4 L1260.3,957.0 L1260.8,960.7 L1261.3,957.3 L1261.8,960.6 L1262.2,963.1 L1262.7,961.8 L1263.2,964.0 L1263.7,961.4 L1264.2,961.7 L1264.6,961.1 L1265.1,961.6 L1265.6,960.4 L1266.1,962.3 L1266.6,962.9 L1267.0,961.0 L1267.5,958.6 L1268.0,961.4 L1268.5,963.0 L1268.9,961.6 L1269.4,961.5 L1269.9,962.8 L1270.4,963.1 L1270.9,957.0 L1271.3,963.3 L1271.8,961.9 L1272.3,961.6 L1272.8,960.0 L1273.3,961.7 L1273.7,962.2 L1274.2,958.9 L1274.7,962.6 L1275.2,961.5 L1275.7,963.6 L1276.1,962.6 L1276.6,961.4 L1277.1,961.1 L1277.6,961.8 L1278.1,961.1 L1278.5,961.7 L1279.0,959.5 L1279.5,958.8 L1280.0,959.8 L1280.4,958.3 L1280.9,958.9 L1281.4,960.8 L1281.9,957.5 L1282.4,957.9 L1282.8,960.5 L1283.3,958.2 L1283.8,958.3 L1284.3,956.1 L1284.8,956.0 L1285.2,957.1 L1285.7,959.7 L1286.2,957.6 L1286.7,953.9 L1287.2,956.3 L1287.6,956.6 L1288.1,955.8 L1288.6,952.2 L1289.1,952.8 L1289.6,954.1 L1290.0,949.0 L1290.5,948.8 L1291.0,945.9 L1291.5,944.2 L1291.9,943.6 L1292.4,943.3 L1292.9,941.9 L1293.4,938.8 L1293.9,938.4 L1294.3,937.3 L1294.8,936.0 L1295.3,938.2 L1295.8,939.3 L1296.3,940.0 L1296.7,939.3 L1297.2,942.0 L1297.7,943.3 L1298.2,943.2 L1298.7,944.7 L1299.1,945.8 L1299.6,947.8 L1300.1,950.9 L1300.6,948.6 L1301.1,949.4 L1301.5,953.5 L1302.0,953.4 L1302.5,951.6 L1303.0,953.6 L1303.4,954.4 L1303.9,955.1 L1304.4,956.7 L1304.9,958.1 L1305.4,957.0 L1305.8,957.5 L1306.3,956.2 L1306.8,958.8 L1307.3,959.6 L1307.8,957.1 L1308.2,956.5 L1308.7,960.9 L1309.2,959.3 L1309.7,956.1 L1310.2,954.3 L1310.6,956.3 L1311.1,958.2 L1311.6,955.2 L1312.1,955.3 L1312.6,954.1 L1313.0,955.3 L1313.5,955.7 L1314.0,951.8 L1314.5,953.2 L1314.9,952.6 L1315.4,951.6 L1315.9,950.5 L1316.4,953.1 L1316.9,952.3 L1317.3,952.7 L1317.8,952.8 L1318.3,949.7 L1318.8,950.0 L1319.3,948.0 L1319.7,947.5 L1320.2,946.8 L1320.7,944.7 L1321.2,941.8 L1321.7,943.0 L1322.1,940.3 L1322.6,937.4 L1323.1,934.5 L1323.6,933.6 L1324.1,931.0 L1324.5,928.0 L1325.0,924.6 L1325.5,920.3 L1326.0,916.4 L1326.4,911.1 L1326.9,906.7 L1327.4,901.6 L1327.9,895.8 L1328.4,890.2 L1328.8,884.3 L1329.3,878.2 L1329.8,872.3 L1330.3,866.2 L1330.8,860.9 L1331.2,855.7 L1331.7,851.6 L1332.2,848.4 L1332.7,846.5 L1333.2,845.8 L1333.6,846.5 L1334.1,848.4 L1334.6,851.7 L1335.1,855.6 L1335.6,860.5 L1336.0,866.0 L1336.5,871.8 L1337.0,877.7 L1337.5,883.6 L1337.9,889.5 L1338.4,895.3 L1338.9,900.9 L1339.4,906.1 L1339.9,910.8 L1340.3,915.5 L1340.8,919.2 L1341.3,923.2 L1341.8,927.3 L1342.3,930.2 L1342.7,933.2 L1343.2,934.6 L1343.7,937.3 L1344.2,938.4 L1344.7,941.5 L1345.1,942.1 L1345.6,942.3 L1346.1,943.6 L1346.6,945.1 L1347.1,943.4 L1347.5,944.4 L1348.0,946.9 L1348.5,946.1 L1349.0,946.0 L1349.4,944.3 L1349.9,947.7 L1350.4,947.1 L1350.9,946.4 L1351.4,944.1 L1351.8,945.3 L1352.3,944.8 L1352.8,942.6 L1353.3,941.5 L1353.8,939.9 L1354.2,939.0 L1354.7,936.5 L1355.2,934.6 L1355.7,931.8 L1356.2,929.5 L1356.6,928.2 L1357.1,925.7 L1357.6,922.5 L1358.1,920.0 L1358.6,916.5 L1359.0,914.0 L1359.5,911.6 L1360.0,909.2 L1360.5,907.7 L1360.9,905.7 L1361.4,905.1 L1361.9,904.9 L1362.4,905.2 L1362.9,906.4 L1363.3,907.0 L1363.8,909.4 L1364.3,911.4 L1364.8,913.4 L1365.3,916.2 L1365.7,919.1 L1366.2,921.0 L1366.7,924.0 L1367.2,926.5 L1367.7,929.2 L1368.1,931.3 L1368.6,933.4 L1369.1,936.3 L1369.6,937.6 L1370.1,940.7 L1370.5,942.6 L1371.0,943.1 L1371.5,945.3 L1372.0,946.3 L1372.4,947.3 L1372.9,950.2 L1373.4,950.5 L1373.9,952.1 L1374.4,950.3 L1374.8,954.6 L1375.3,952.8 L1375.8,955.3 L1376.3,959.1 L1376.8,959.9 L1377.2,957.5 L1377.7,957.1 L1378.2,959.5 L1378.7,958.6 L1379.2,959.8 L1379.6,957.8 L1380.1,961.5 L1380.6,962.7 L1381.1,958.6 L1381.6,960.0 L1382.0,959.8 L1382.5,962.2 L1383.0,958.5 L1383.5,962.0 L1383.9,961.7 L1384.4,961.3 L1384.9,963.3 L1385.4,959.6 L1385.9,960.4 L1386.3,961.9 L1386.8,964.3 L1387.3,962.8 L1387.8,962.3 L1388.3,964.3 L1388.7,962.4 L1389.2,962.5 L1389.7,962.8 L1390.2,964.3 L1390.7,967.5 L1391.1,962.2 L1391.6,964.8 L1392.1,964.3 L1392.6,964.5 L1393.1,967.6 L1393.5,966.4 L1394.0,966.8 L1394.5,964.8 L1395.0,964.5 L1395.4,966.1 L1395.9,965.1 L1396.4,964.6 L1396.9,965.9 L1397.4,963.1 L1397.8,964.0 L1398.3,966.5 L1398.8,965.6 L1399.3,966.9 L1399.8,964.5 L1400.2,966.9 L1400.7,964.8 L1401.2,968.5 L1401.7,967.9 L1402.2,967.5 L1402.6,969.2 L1403.1,967.1 L1403.6,965.7 L1404.1,969.4 L1404.6,967.6 L1405.0,969.3 L1405.5,968.0 L1406.0,969.3 L1406.5,966.1 L1406.9,965.2 L1407.4,965.5 L1407.9,969.1 L1408.4,965.0 L1408.9,965.5 L1409.3,965.8 L1409.8,968.3 L1410.3,969.1 L1410.8,967.5 L1411.3,970.5 L1411.7,969.5 L1412.2,970.9 L1412.7,970.6 L1413.2,967.9 L1413.7,969.7 L1414.1,969.0 L1414.6,969.8 L1415.1,969.3 L1415.6,968.9 L1416.1,970.1 L1416.5,969.2 L1417.0,970.0 L1417.5,969.1 L1418.0,968.4 L1418.4,970.4 L1418.9,970.5 L1419.4,970.8 L1419.9,969.4 L1420.4,968.1 L1420.8,968.6 L1421.3,968.4 L1421.8,965.4 L1422.3,966.6 L1422.8,970.6 L1423.2,967.9 L1423.7,963.5 L1424.2,967.9 L1424.7,967.6 L1425.2,965.0 L1425.6,971.0 L1426.1,969.4 L1426.6,968.7 L1427.1,966.9 L1427.6,968.1 L1428.0,968.7 L1428.5,968.4 L1429.0,967.4 L1429.5,968.9 L1429.9,968.3 L1430.4,968.0 L1430.9,965.8 L1431.4,967.6 L1431.9,966.9 L1432.3,966.9 L1432.8,966.6 L1433.3,963.4 L1433.8,966.6 L1434.3,966.0 L1434.7,962.9 L1435.2,964.3 L1435.7,963.3 L1436.2,963.5 L1436.7,965.0 L1437.1,963.4 L1437.6,965.3 L1438.1,962.2 L1438.6,960.7 L1439.1,961.8 L1439.5,958.0 L1440.0,963.5 L1440.5,961.0 L1441.0,961.7 L1441.4,961.3 L1441.9,959.5 L1442.4,960.6 L1442.9,959.3 L1443.4,959.5 L1443.8,960.5 L1444.3,958.4 L1444.8,962.2 L1445.3,958.5 L1445.8,961.1 L1446.2,959.5 L1446.7,958.3 L1447.2,960.6 L1447.7,960.8 L1448.2,960.8 L1448.6,960.9 L1449.1,960.2 L1449.6,961.9 L1450.1,961.3 L1450.6,962.6 L1451.0,964.3 L1451.5,960.7 L1452.0,962.2 L1452.5,962.3 L1452.9,962.9 L1453.4,962.9 L1453.9,964.6 L1454.4,965.4 L1454.9,965.2 L1455.3,963.5 L1455.8,967.3 L1456.3,967.3 L1456.8,966.9 L1457.3,965.5 L1457.7,965.7 L1458.2,970.6 L1458.7,970.2 L1459.2,968.6 L1459.7,966.8 L1460.1,970.8 L1460.6,969.5 L1461.1,971.5 L1461.6,968.2 L1462.1,969.8 L1462.5,968.9 L1463.0,970.6 L1463.5,968.1 L1464.0,970.2 L1464.4,968.4 L1464.9,968.3 L1465.4,970.9 L1465.9,969.9 L1466.4,966.5 L1466.8,969.4 L1467.3,969.9 L1467.8,970.4 L1468.3,973.9 L1468.8,969.6 L1469.2,970.0 L1469.7,967.6 L1470.2,968.5 L1470.7,969.9 L1471.2,970.7 L1471.6,970.5 L1472.1,971.6 L1472.6,971.9 L1473.1,972.2 L1473.6,970.2 L1474.0,971.2 L1474.5,969.5 L1475.0,970.9 L1475.5,971.1 L1475.9,969.5 L1476.4,965.4 L1476.9,969.5 L1477.4,974.6 L1477.9,970.7 L1478.3,969.2 L1478.8,970.4 L1479.3,971.8 L1479.8,970.9 L1480.3,970.0 L1480.7,968.7 L1481.2,970.2 L1481.7,969.0 L1482.2,970.9 L1482.7,972.9 L1483.1,972.4 L1483.6,969.8 L1484.1,969.3 L1484.6,968.6 L1485.1,971.2 L1485.5,971.2 L1486.0,971.6 L1486.5,971.5 L1487.0,969.5 L1487.4,968.0 L1487.9,972.7 L1488.4,969.5 L1488.9,974.1 L1489.4,967.7 L1489.8,969.2 L1490.3,969.6 L1490.8,971.3 L1491.3,971.6 L1491.8,969.7 L1492.2,972.0 L1492.7,968.9 L1493.2,970.2 L1493.7,968.9 L1494.2,970.2 L1494.6,970.1 L1495.1,971.7 L1495.6,976.6 L1496.1,968.8 L1496.6,970.3 L1497.0,971.7 L1497.5,970.8 L1498.0,972.4 L1498.5,968.8 L1498.9,971.6 L1499.4,969.0 L1499.9,972.2 L1500.4,971.3 L1500.9,971.5 L1501.3,970.2 L1501.8,968.4 L1502.3,970.3 L1502.8,973.3 L1503.3,971.3 L1503.7,973.0 L1504.2,969.2 L1504.7,972.5 L1505.2,973.3 L1505.7,968.5 L1506.1,972.2 L1506.6,974.6 L1507.1,970.1 L1507.6,972.9 L1508.1,971.7 L1508.5,973.3 L1509.0,971.6 L1509.5,971.1 L1510.0,971.1 L1510.4,971.1 L1510.9,970.8 L1511.4,970.6 L1511.9,974.1 L1512.4,971.1 L1512.8,970.2 L1513.3,970.1 L1513.8,972.2 L1514.3,967.8 L1514.8,972.5 L1515.2,972.8 L1515.7,973.7 L1516.2,970.7 L1516.7,969.6 L1517.2,970.8 L1517.6,971.0 L1518.1,973.0 L1518.6,971.4 L1519.1,970.7 L1519.6,969.0 L1520.0,970.8 L1520.5,971.0 L1521.0,973.4 L1521.5,971.4 L1521.9,973.5 L1522.4,972.8 L1522.9,969.5 L1523.4,969.0 L1523.9,969.9 L1524.3,970.5 L1524.8,970.2 L1525.3,971.9 L1525.8,971.9 L1526.3,972.6 L1526.7,971.4 L1527.2,970.0 L1527.7,971.6 L1528.2,969.9 L1528.7,971.6 L1529.1,969.7 L1529.6,973.5 L1530.1,967.8 L1530.6,973.4 L1531.1,974.0 L1531.5,972.2 L1532.0,972.5 L1532.5,971.8 L1533.0,973.6 L1533.4,974.3 L1533.9,971.4 L1534.4,973.7 L1534.9,970.1 L1535.4,971.4 L1535.8,972.4 L1536.3,969.6 L1536.8,972.1 L1537.3,969.8 L1537.8,972.0 L1538.2,969.3 L1538.7,967.5 L1539.2,967.9 L1539.7,969.8 L1540.2,969.1 L1540.6,968.0 L1541.1,965.9 L1541.6,968.2 L1542.1,965.4 L1542.6,965.0 L1543.0,966.5 L1543.5,964.0 L1544.0,960.2 L1544.5,962.8 L1544.9,961.0 L1545.4,959.3 L1545.9,960.3 L1546.4,956.8 L1546.9,957.5 L1547.3,956.0 L1547.8,957.8 L1548.3,953.0 L1548.8,955.2 L1549.3,955.4 L1549.7,956.3 L1550.2,955.1 L1550.7,955.9 L1551.2,959.0 L1551.7,957.6 L1552.1,959.8 L1552.6,960.1 L1553.1,961.4 L1553.6,960.4 L1554.1,962.5 L1554.5,964.0 L1555.0,964.8 L1555.5,967.3 L1556.0,966.8 L1556.4,967.7 L1556.9,967.4 L1557.4,970.2 L1557.9,967.5 L1558.4,968.7 L1558.8,966.9 L1559.3,968.0 L1559.8,971.1 L1560.3,970.5 L1560.8,967.8 L1561.2,970.5 L1561.7,970.2 L1562.2,969.0 L1562.7,972.2 L1563.2,971.4 L1563.6,971.6 L1564.1,972.8 L1564.6,970.4 L1565.1,973.2 L1565.6,971.7 L1566.0,971.6 L1566.5,974.6 L1567.0,972.8 L1567.5,971.6 L1567.9,972.4 L1568.4,973.2 L1568.9,970.2 L1569.4,973.8 L1569.9,971.8 L1570.3,970.3 L1570.8,970.6 L1571.3,973.4 L1571.8,969.9 L1572.3,975.3 L1572.7,970.0 L1573.2,972.2 L1573.7,967.6 L1574.2,972.3 L1574.7,971.2 L1575.1,972.8 L1575.6,972.7 L1576.1,972.0 L1576.6,976.0 L1577.1,974.5 L1577.5,972.0 L1578.0,973.5 L1578.5,968.0 L1579.0,971.9 L1579.4,974.7 L1579.9,971.7 L1580.4,972.2 L1580.9,970.4 L1581.4,972.8 L1581.8,971.7 L1582.3,970.9 L1582.8,973.0 L1583.3,974.3 L1583.8,972.9 L1584.2,969.0 L1584.7,972.4 L1585.2,971.8 L1585.7,969.7 L1586.2,969.2 L1586.6,971.7 L1587.1,971.7 L1587.6,971.7 L1588.1,970.4 L1588.6,971.9 L1589.0,972.4 L1589.5,971.9 L1590.0,973.0 L1590.5,971.5 L1590.9,969.7 L1591.4,971.9 L1591.9,973.7 L1592.4,976.7 L1592.9,968.6 L1593.3,971.0 L1593.8,970.7 L1594.3,972.6 L1594.8,970.8 L1595.3,972.7 L1595.7,974.9 L1596.2,972.0 L1596.7,973.6 L1597.2,976.8 L1597.7,975.9 L1598.1,971.6 L1598.6,977.3 L1599.1,972.9 L1599.6,975.1 L1600.1,973.5 L1600.5,974.0 L1601.0,973.5 L1601.5,975.7 L1602.0,973.3 L1602.4,972.5 L1602.9,974.0 L1603.4,975.1 L1603.9,971.2 L1604.4,975.3 L1604.8,972.4 L1605.3,974.5 L1605.8,975.5 L1606.3,974.3 L1606.8,974.6 L1607.2,973.3 L1607.7,972.9 L1608.2,971.2 L1608.7,973.8 L1609.2,973.7 L1609.6,971.2 L1610.1,975.4 L1610.6,977.2 L1611.1,975.4 L1611.6,975.8 L1612.0,973.2 L1612.5,971.7 L1613.0,973.6 L1613.5,972.4 L1613.9,970.6 L1614.4,974.1 L1614.9,972.9 L1615.4,971.7 L1615.9,973.6 L1616.3,973.2 L1616.8,974.7 L1617.3,976.6 L1617.8,973.2 L1618.3,972.4 L1618.7,976.3 L1619.2,977.5 L1619.7,972.6 L1620.2,972.3 L1620.7,972.0 L1621.1,973.8 L1621.6,974.0 L1622.1,973.4 L1622.6,975.0 L1623.1,972.4 L1623.5,972.6 L1624.0,971.6 L1624.5,975.6 L1625.0,975.1 L1625.4,975.6 L1625.9,972.1 L1626.4,975.8"/>
<path stroke="#ff0000" d="M196.6,786.0 L197.1,779.1 L197.5,780.4 L198.0,781.4 L198.5,777.4 L199.0,779.6 L199.4,779.9 L199.9,774.4 L200.4,782.1 L200.9,780.7 L201.4,777.8 L201.8,780.0 L202.3,782.1 L202.8,780.4 L203.3,779.9 L203.8,776.0 L204.2,782.3 L204.7,781.2 L205.2,782.0 L205.7,776.4 L206.2,785.3 L206.6,781.4 L207.1,779.9 L207.6,787.6 L208.1,781.5 L208.6,776.9 L209.0,779.8 L209.5,774.2 L210.0,784.2 L210.5,779.6 L210.9,778.6 L211.4,784.0 L211.9,776.5 L212.4,783.1 L212.9,775.7 L213.3,780.1 L213.8,778.1 L214.3,786.4 L214.8,787.0 L215.3,780.4 L215.7,784.2 L216.2,780.3 L216.7,781.9 L217.2,778.2 L217.7,775.1 L218.1,775.5 L218.6,781.3 L219.1,787.2 L219.6,781.5 L220.1,778.8 L220.5,786.2 L221.0,781.8 L221.5,781.9 L222.0,781.9 L222.4,780.6 L222.9,780.1 L223.4,775.9 L223.9,780.3 L224.4,778.5 L224.8,782.1 L225.3,777.6 L225.8,772.7 L226.3,778.6 L226.8,783.7 L227.2,777.7 L227.7,776.6 L228.2,776.7 L228.7,777.3 L229.2,779.6 L229.6,777.0 L230.1,784.7 L230.6,779.4 L231.1,780.3 L231.6,784.4 L232.0,784.7 L232.5,780.0 L233.0,780.7 L233.5,782.1 L233.9,779.3 L234.4,774.5 L234.9,781.0 L235.4,782.0 L235.9,780.4 L236.3,776.6 L236.8,778.3 L237.3,778.1 L237.8,778.8 L238.3,783.1 L238.7,784.3 L239.2,782.4 L239.7,781.8 L240.2,782.5 L240.7,780.6 L241.1,781.0 L241.6,778.6 L242.1,780.6 L242.6,787.9 L243.1,783.7 L243.5,780.4 L244.0,780.4 L244.5,779.3 L245.0,783.0 L245.4,782.9 L245.9,777.7 L246.4,783.9 L246.9,780.0 L247.4,785.9 L247.8,781.7 L248.3,786.2 L248.8,780.1 L249.3,780.1 L249.8,782.3 L250.2,784.2 L250.7,781.7 L251.2,776.9 L251.7,780.2 L252.2,780.5 L252.6,779.2 L253.1,777.0 L253.6,783.7 L254.1,776.6 L254.6,775.8 L255.0,779.9 L255.5,778.1 L256.0,778.1 L256.5,779.8 L256.9,778.9 L257.4,779.0 L257.9,781.6 L258.4,780.5 L258.9,777.2 L259.3,777.5 L259.8,776.6 L260.3,778.8 L260.8,775.2 L261.3,773.3 L261.7,778.9 L262.2,774.0 L262.7,771.6 L263.2,779.1 L263.7,776.8 L264.1,780.5 L264.6,777.3 L265.1,775.8 L265.6,775.2 L266.1,777.7 L266.5,778.5 L267.0,777.0 L267.5,777.2 L268.0,773.7 L268.4,779.1 L268.9,774.0 L269.4,778.2 L269.9,780.0 L270.4,781.7 L270.8,783.5 L271.3,774.0 L271.8,781.7 L272.3,782.7 L272.8,781.6 L273.2,776.5 L273.7,780.5 L274.2,786.1 L274.7,776.0 L275.2,782.1 L275.6,784.4 L276.1,779.4 L276.6,783.8 L277.1,779.3 L277.6,779.2 L278.0,780.1 L278.5,782.2 L279.0,781.0 L279.5,784.3 L279.9,778.8 L280.4,780.8 L280.9,783.6 L281.4,782.5 L281.9,778.1 L282.3,783.2 L282.8,779.6 L283.3,782.2 L283.8,781.9 L284.3,784.3 L284.7,780.9 L285.2,775.5 L285.7,777.1 L286.2,782.4 L286.7,779.7 L287.1,784.1 L287.6,781.7 L288.1,778.5 L288.6,783.4 L289.1,778.4 L289.5,774.6 L290.0,786.1 L290.5,774.8 L291.0,782.2 L291.4,783.1 L291.9,780.9 L292.4,775.5 L292.9,784.4 L293.4,776.6 L293.8,777.0 L294.3,780.4 L294.8,783.3 L295.3,781.6 L295.8,783.0 L296.2,779.0 L296.7,780.6 L297.2,777.3 L297.7,780.0 L298.2,782.4 L298.6,779.7 L299.1,782.3 L299.6,779.3 L300.1,779.9 L300.6,782.1 L301.0,780.9 L301.5,783.4 L302.0,782.4 L302.5,787.3 L302.9,781.4 L303.4,782.6 L303.9,780.6 L304.4,783.8 L304.9,785.8 L305.3,781.5 L305.8,783.5 L306.3,785.9 L306.8,783.4 L307.3,782.6 L307.7,786.3 L308.2,784.8 L308.7,786.3 L309.2,788.9 L309.7,790.1 L310.1,786.6 L310.6,786.0 L311.1,788.4 L311.6,787.3 L312.1,782.7 L312.5,791.1 L313.0,786.7 L313.5,789.4 L314.0,783.2 L314.4,789.7 L314.9,784.8 L315.4,786.5 L315.9,782.0 L316.4,784.4 L316.8,784.6 L317.3,784.4 L317.8,786.2 L318.3,785.2 L318.8,788.1 L319.2,783.9 L319.7,781.7 L320.2,785.2 L320.7,787.2 L321.2,788.9 L321.6,788.9 L322.1,781.0 L322.6,787.3 L323.1,789.6 L323.6,785.4 L324.0,784.4 L324.5,787.0 L325.0,785.4 L325.5,789.2 L325.9,786.8 L326.4,791.1 L326.9,788.0 L327.4,785.5 L327.9,789.5 L328.3,789.9 L328.8,785.9 L329.3,785.9 L329.8,780.4 L330.3,789.8 L330.7,785.5 L331.2,782.3 L331.7,783.1 L332.2,787.5 L332.7,791.0 L333.1,788.5 L333.6,790.1 L334.1,785.4 L334.6,784.8 L335.1,791.0 L335.5,788.6 L336.0,787.7 L336.5,792.1 L337.0,786.1 L337.4,788.0 L337.9,793.2 L338.4,795.5 L338.9,790.7 L339.4,795.7 L339.8,789.5 L340.3,791.8 L340.8,789.8 L341.3,785.6 L341.8,791.3 L342.2,792.7 L342.7,789.9 L343.2,790.4 L343.7,795.4 L344.2,788.2 L344.6,787.3 L345.1,790.7 L345.6,788.6 L346.1,794.5 L346.6,790.6 L347.0,787.4 L347.5,786.7 L348.0,796.0 L348.5,785.9 L348.9,786.3 L349.4,788.0 L349.9,789.5 L350.4,789.1 L350.9,787.2 L351.3,785.9 L351.8,791.7 L352.3,789.8 L352.8,785.8 L353.3,793.7 L353.7,793.0 L354.2,790.3 L354.7,789.6 L355.2,790.5 L355.7,787.6 L356.1,785.5 L356.6,790.8 L357.1,786.2 L357.6,791.2 L358.1,786.0 L358.5,789.6 L359.0,790.3 L359.5,795.8 L360.0,788.3 L360.4,788.1 L360.9,790.2 L361.4,787.9 L361.9,789.6 L362.4,792.3 L362.8,792.8 L363.3,795.5 L363.8,789.5 L364.3,799.3 L364.8,796.7 L365.2,788.9 L365.7,782.8 L366.2,789.1 L366.7,789.7 L367.2,784.1 L367.6,790.1 L368.1,788.8 L368.6,786.7 L369.1,791.0 L369.6,792.8 L370.0,788.8 L370.5,790.7 L371.0,788.2 L371.5,786.8 L371.9,789.4 L372.4,790.1 L372.9,787.1 L373.4,782.6 L373.9,791.3 L374.3,785.2 L374.8,790.0 L375.3,794.9 L375.8,789.6 L376.3,786.4 L376.7,786.4 L377.2,793.6 L377.7,790.1 L378.2,790.9 L378.7,791.9 L379.1,789.1 L379.6,788.5 L380.1,787.5 L380.6,782.2 L381.1,785.1 L381.5,788.9 L382.0,788.1 L382.5,790.3 L383.0,788.6 L383.4,789.2 L383.9,790.2 L384.4,784.9 L384.9,785.4 L385.4,783.4 L385.8,791.0 L386.3,789.6 L386.8,791.3 L387.3,794.4 L387.8,793.7 L388.2,791.4 L388.7,793.9 L389.2,787.2 L389.7,792.5 L390.2,791.6 L390.6,785.9 L391.1,794.1 L391.6,787.8 L392.1,791.6 L392.6,788.3 L393.0,793.2 L393.5,794.7 L394.0,788.2 L394.5,786.7 L394.9,790.2 L395.4,793.3 L395.9,790.8 L396.4,790.5 L396.9,793.5 L397.3,784.2 L397.8,789.7 L398.3,787.2 L398.8,792.2 L399.3,789.2 L399.7,787.4 L400.2,789.2 L400.7,784.8 L401.2,788.8 L401.7,786.6 L402.1,787.7 L402.6,786.5 L403.1,791.3 L403.6,788.6 L404.1,790.1 L404.5,789.7 L405.0,786.0 L405.5,789.1 L406.0,787.5 L406.4,787.2 L406.9,785.7 L407.4,785.2 L407.9,788.4 L408.4,793.0 L408.8,784.9 L409.3,788.9 L409.8,786.7 L410.3,790.7 L410.8,790.2 L411.2,792.1 L411.7,780.5 L412.2,785.9 L412.7,785.1 L413.2,787.2 L413.6,786.2 L414.1,786.7 L414.6,789.7 L415.1,793.3 L415.6,779.8 L416.0,787.8 L416.5,790.4 L417.0,788.3 L417.5,787.4 L417.9,784.5 L418.4,785.2 L418.9,790.3 L419.4,791.0 L419.9,787.6 L420.3,784.2 L420.8,786.5 L421.3,786.1 L421.8,788.1 L422.3,786.1 L422.7,784.4 L423.2,786.1 L423.7,782.0 L424.2,787.8 L424.7,788.7 L425.1,782.3 L425.6,786.5 L426.1,782.1 L426.6,787.9 L427.1,786.9 L427.5,783.8 L428.0,786.7 L428.5,783.0 L429.0,782.2 L429.4,781.8 L429.9,781.8 L430.4,781.5 L430.9,782.3 L431.4,779.8 L431.8,783.0 L432.3,783.5 L432.8,779.5 L433.3,776.8 L433.8,782.7 L434.2,784.1 L434.7,780.9 L435.2,778.0 L435.7,781.7 L436.2,784.3 L436.6,775.5 L437.1,780.3 L437.6,778.2 L438.1,776.3 L438.6,779.3 L439.0,774.7 L439.5,777.9 L440.0,779.4 L440.5,776.0 L440.9,773.2 L441.4,770.9 L441.9,771.7 L442.4,770.3 L442.9,776.0 L443.3,771.9 L443.8,769.8 L444.3,768.8 L444.8,769.1 L445.3,769.6 L445.7,767.5 L446.2,770.6 L446.7,764.9 L447.2,763.7 L447.7,764.0 L448.1,764.1 L448.6,762.3 L449.1,758.6 L449.6,757.6 L450.1,755.6 L450.5,754.0 L451.0,751.7 L451.5,748.5 L452.0,745.5 L452.4,743.4 L452.9,739.5 L453.4,737.3 L453.9,732.6 L454.4,727.8 L454.8,723.1 L455.3,717.5 L455.8,711.4 L456.3,704.7 L456.8,696.2 L457.2,687.1 L457.7,677.1 L458.2,665.2 L458.7,651.7 L459.2,636.3 L459.6,618.7 L460.1,598.7 L460.6,575.9 L461.1,550.5 L461.6,522.4 L462.0,492.1 L462.5,460.5 L463.0,429.2 L463.5,400.4 L463.9,376.9 L464.4,361.4 L464.9,356.0 L465.4,361.5 L465.9,377.1 L466.3,400.7 L466.8,429.6 L467.3,460.9 L467.8,492.6 L468.3,522.9 L468.7,551.1 L469.2,576.6 L469.7,599.4 L470.2,619.5 L470.7,637.2 L471.1,652.8 L471.6,666.2 L472.1,678.1 L472.6,688.6 L473.1,697.9 L473.5,705.7 L474.0,712.6 L474.5,719.0 L475.0,724.3 L475.4,729.9 L475.9,733.7 L476.4,737.5 L476.9,740.5 L477.4,742.8 L477.8,746.2 L478.3,748.5 L478.8,749.6 L479.3,750.7 L479.8,752.8 L480.2,753.1 L480.7,755.1 L481.2,755.2 L481.7,756.4 L482.2,759.4 L482.6,760.9 L483.1,764.5 L483.6,763.7 L484.1,765.8 L484.6,765.9 L485.0,766.5 L485.5,768.2 L486.0,772.8 L486.5,771.2 L486.9,776.1 L487.4,777.7 L487.9,775.9 L488.4,780.2 L488.9,778.7 L489.3,781.5 L489.8,779.4 L490.3,782.7 L490.8,779.5 L491.3,783.3 L491.7,781.9 L492.2,783.7 L492.7,787.1 L493.2,786.6 L493.7,786.7 L494.1,789.1 L494.6,789.9 L495.1,785.0 L495.6,790.1 L496.1,790.3 L496.5,785.2 L497.0,786.8 L497.5,782.1 L498.0,787.8 L498.4,782.7 L498.9,782.4 L499.4,784.1 L499.9,781.2 L500.4,781.9 L500.8,778.7 L501.3,779.3 L501.8,777.3 L502.3,779.1 L502.8,782.0 L503.2,780.2 L503.7,781.2 L504.2,776.8 L504.7,777.1 L505.2,777.7 L505.6,779.2 L506.1,778.4 L506.6,777.8 L507.1,778.0 L507.6,776.0 L508.0,775.6 L508.5,777.1 L509.0,773.2 L509.5,773.4 L509.9,774.8 L510.4,772.0 L510.9,771.8 L511.4,768.7 L511.9,770.5 L512.3,764.6 L512.8,765.0 L513.3,764.0 L513.8,765.2 L514.3,762.2 L514.7,759.6 L515.2,756.9 L515.7,756.2 L516.2,753.4 L516.7,750.1 L517.1,746.4 L517.6,742.9 L518.1,739.5 L518.6,735.2 L519.1,730.1 L519.5,724.3 L520.0,717.5 L520.5,710.7 L521.0,702.3 L521.4,693.1 L521.9,682.6 L522.4,670.4 L522.9,656.6 L523.4,641.3 L523.8,623.8 L524.3,604.3 L524.8,583.0 L525.3,560.4 L525.8,536.9 L526.2,513.9 L526.7,492.9 L527.2,475.9 L527.7,464.8 L528.2,460.9 L528.6,465.6 L529.1,478.9 L529.6,498.9 L530.1,522.9 L530.6,548.6 L531.0,574.1 L531.5,598.0 L532.0,619.9 L532.5,639.4 L532.9,656.6 L533.4,671.3 L533.9,684.7 L534.4,695.9 L534.9,705.5 L535.3,714.4 L535.8,721.5 L536.3,728.3 L536.8,733.4 L537.3,738.2 L537.7,743.3 L538.2,747.6 L538.7,750.2 L539.2,753.4 L539.7,755.2 L540.1,756.9 L540.6,759.6 L541.1,762.8 L541.6,762.1 L542.1,764.7 L542.5,764.8 L543.0,768.2 L543.5,770.0 L544.0,768.7 L544.4,770.3 L544.9,772.8 L545.4,771.8 L545.9,770.9 L546.4,771.0 L546.8,770.3 L547.3,773.2 L547.8,771.7 L548.3,773.6 L548.8,773.2 L549.2,771.6 L549.7,771.6 L550.2,772.7 L550.7,771.7 L551.2,771.5 L551.6,768.8 L552.1,770.6 L552.6,768.3 L553.1,766.0 L553.6,766.3 L554.0,766.1 L554.5,766.3 L555.0,763.0 L555.5,760.9 L555.9,761.7 L556.4,758.4 L556.9,756.1 L557.4,753.5 L557.9,751.1 L558.3,749.1 L558.8,744.8 L559.3,740.7 L559.8,736.0 L560.3,731.2 L560.7,724.3 L561.2,717.3 L561.7,708.8 L562.2,699.0 L562.7,687.6 L563.1,674.8 L563.6,660.0 L564.1,643.1 L564.6,624.1 L565.1,603.0 L565.5,579.5 L566.0,553.6 L566.5,525.3 L567.0,494.8 L567.4,462.1 L567.9,427.5 L568.4,391.5 L568.9,354.5 L569.4,317.2 L569.8,280.4 L570.3,245.2 L570.8,212.8 L571.3,184.6 L571.8,161.9 L572.2,145.9 L572.7,137.7 L573.2,137.8 L573.7,146.2 L574.2,162.3 L574.6,185.2 L575.1,213.6 L575.6,246.2 L576.1,281.5 L576.6,318.5 L577.0,356.0 L577.5,393.1 L578.0,429.4 L578.5,464.1 L578.9,496.9 L579.4,527.7 L579.9,556.1 L580.4,582.2 L580.9,605.9 L581.3,627.4 L581.8,646.5 L582.3,663.5 L582.8,678.4 L583.3,691.5 L583.7,703.2 L584.2,713.2 L584.7,721.9 L585.2,729.5 L585.7,735.8 L586.1,741.8 L586.6,746.6 L587.1,750.4 L587.6,755.0 L588.1,758.5 L588.5,761.7 L589.0,763.6 L589.5,765.8 L590.0,767.4 L590.4,771.3 L590.9,770.2 L591.4,773.5 L591.9,775.0 L592.4,777.6 L592.8,777.9 L593.3,777.9 L593.8,778.6 L594.3,780.1 L594.8,781.7 L595.2,782.8 L595.7,783.2 L596.2,783.2 L596.7,784.4 L597.2,786.6 L597.6,783.5 L598.1,786.2 L598.6,789.9 L599.1,788.9 L599.6,787.8 L600.0,790.7 L600.5,788.9 L601.0,791.3 L601.5,795.4 L601.9,796.4 L602.4,789.4 L602.9,795.3 L603.4,798.8 L603.9,793.7 L604.3,795.9 L604.8,798.3 L605.3,794.4 L605.8,797.2 L606.3,795.9 L606.7,791.9 L607.2,797.1 L607.7,795.9 L608.2,798.5 L608.7,801.6 L609.1,799.1 L609.6,796.6 L610.1,799.0 L610.6,799.5 L611.1,801.4 L611.5,795.5 L612.0,796.0 L612.5,794.1 L613.0,801.3 L613.4,800.2 L613.9,798.8 L614.4,797.7 L614.9,798.1 L615.4,796.6 L615.8,798.7 L616.3,798.6 L616.8,803.4 L617.3,800.5 L617.8,797.4 L618.2,798.3 L618.7,803.4 L619.2,802.0 L619.7,802.3 L620.2,803.2 L620.6,805.7 L621.1,799.3 L621.6,800.5 L622.1,797.9 L622.6,803.9 L623.0,802.0 L623.5,801.3 L624.0,801.1 L624.5,805.3 L624.9,803.1 L625.4,801.7 L625.9,807.3 L626.4,800.2 L626.9,800.0 L627.3,810.9 L627.8,803.1 L628.3,802.7 L628.8,801.7 L629.3,803.7 L629.7,806.3 L630.2,806.7 L630.7,806.4 L631.2,804.0 L631.7,800.2 L632.1,804.7 L632.6,807.5 L633.1,806.9 L633.6,803.2 L634.1,805.6 L634.5,802.5 L635.0,803.6 L635.5,800.3 L636.0,803.6 L636.4,804.8 L636.9,805.1 L637.4,808.1 L637.9,811.2 L638.4,809.6 L638.8,804.6 L639.3,803.6 L639.8,804.1 L640.3,802.7 L640.8,805.9 L641.2,806.4 L641.7,805.5 L642.2,805.7 L642.7,805.4 L643.2,804.5 L643.6,802.9 L644.1,809.2 L644.6,806.9 L645.1,801.8 L645.6,802.0 L646.0,803.0 L646.5,804.6 L647.0,809.1 L647.5,808.5 L647.9,808.1 L648.4,808.8 L648.9,809.2 L649.4,807.9 L649.9,807.2 L650.3,806.1 L650.8,802.0 L651.3,805.9 L651.8,811.9 L652.3,807.0 L652.7,806.4 L653.2,811.8 L653.7,809.2 L654.2,807.9 L654.7,812.7 L655.1,809.6 L655.6,810.6 L656.1,806.5 L656.6,808.3 L657.1,808.8 L657.5,810.0 L658.0,811.2 L658.5,810.7 L659.0,808.5 L659.4,810.9 L659.9,804.5 L660.4,808.9 L660.9,808.9 L661.4,805.6 L661.8,804.2 L662.3,806.2 L662.8,803.4 L663.3,807.8 L663.8,807.6 L664.2,806.2 L664.7,809.8 L665.2,813.4 L665.7,812.9 L666.2,813.3 L666.6,809.9 L667.1,809.4 L667.6,809.1 L668.1,811.1 L668.6,814.5 L669.0,811.3 L669.5,810.9 L670.0,811.1 L670.5,802.4 L670.9,806.7 L671.4,806.1 L671.9,810.5 L672.4,812.0 L672.9,805.3 L673.3,807.4 L673.8,809.3 L674.3,805.8 L674.8,805.3 L675.3,804.9 L675.7,809.0 L676.2,804.6 L676.7,810.8 L677.2,809.1 L677.7,811.7 L678.1,814.0 L678.6,807.9 L679.1,807.9 L679.6,811.8 L680.1,808.4 L680.5,809.7 L681.0,811.2 L681.5,811.2 L682.0,806.3 L682.4,809.3 L682.9,812.2 L683.4,813.8 L683.9,804.2 L684.4,812.9 L684.8,811.1 L685.3,806.2 L685.8,805.2 L686.3,812.0 L686.8,809.3 L687.2,810.5 L687.7,813.0 L688.2,810.5 L688.7,812.2 L689.2,813.5 L689.6,813.2 L690.1,816.1 L690.6,814.6 L691.1,810.6 L691.6,810.1 L692.0,817.4 L692.5,812.0 L693.0,811.4 L693.5,806.9 L693.9,813.2 L694.4,809.2 L694.9,810.7 L695.4,808.4 L695.9,809.8 L696.3,811.0 L696.8,806.5 L697.3,808.3 L697.8,810.9 L698.3,807.9 L698.7,807.9 L699.2,808.8 L699.7,807.3 L700.2,813.5 L700.7,809.6 L701.1,813.7 L701.6,813.9 L702.1,807.9 L702.6,811.3 L703.1,809.4 L703.5,807.4 L704.0,810.1 L704.5,810.3 L705.0,812.9 L705.4,814.8 L705.9,809.5 L706.4,811.4 L706.9,813.6 L707.4,815.3 L707.8,806.0 L708.3,815.9 L708.8,812.1 L709.3,816.3 L709.8,810.5 L710.2,809.0 L710.7,811.3 L711.2,813.9 L711.7,810.8 L712.2,804.4 L712.6,813.1 L713.1,806.4 L713.6,808.6 L714.1,807.8 L714.6,806.1 L715.0,807.7 L715.5,809.0 L716.0,810.6 L716.5,811.9 L716.9,811.3 L717.4,807.7 L717.9,811.4 L718.4,815.6 L718.9,815.0 L719.3,813.5 L719.8,815.1 L720.3,815.9 L720.8,816.7 L721.3,817.0 L721.7,811.6 L722.2,812.5 L722.7,816.8 L723.2,817.1 L723.7,816.9 L724.1,805.5 L724.6,811.0 L725.1,802.8 L725.6,814.6 L726.1,813.2 L726.5,812.6 L727.0,811.3 L727.5,815.9 L728.0,811.2 L728.4,815.4 L728.9,814.3 L729.4,814.0 L729.9,814.2 L730.4,813.7 L730.8,811.2 L731.3,817.3 L731.8,817.1 L732.3,814.2 L732.8,817.0 L733.2,816.7 L733.7,810.9 L734.2,814.4 L734.7,812.8 L735.2,811.0 L735.6,814.0 L736.1,810.5 L736.6,812.4 L737.1,813.7 L737.6,814.8 L738.0,814.1 L738.5,819.7 L739.0,812.3 L739.5,814.8 L739.9,811.4 L740.4,816.2 L740.9,817.4 L741.4,817.2 L741.9,811.9 L742.3,811.9 L742.8,815.4 L743.3,810.5 L743.8,812.7 L744.3,807.2 L744.7,813.8 L745.2,813.0 L745.7,812.0 L746.2,808.6 L746.7,810.9 L747.1,812.1 L747.6,813.3 L748.1,812.1 L748.6,811.1 L749.1,813.1 L749.5,816.9 L750.0,807.7 L750.5,809.1 L751.0,809.0 L751.4,810.9 L751.9,807.3 L752.4,814.0 L752.9,812.8 L753.4,810.9 L753.8,809.0 L754.3,811.3 L754.8,811.5 L755.3,811.5 L755.8,809.8 L756.2,813.7 L756.7,808.0 L757.2,815.4 L757.7,804.1 L758.2,811.5 L758.6,810.0 L759.1,815.7 L759.6,809.7 L760.1,818.7 L760.6,809.9 L761.0,819.8 L761.5,815.7 L762.0,814.0 L762.5,815.2 L762.9,820.4 L763.4,817.3 L763.9,809.0 L764.4,818.3 L764.9,815.9 L765.3,810.5 L765.8,817.8 L766.3,812.7 L766.8,815.7 L767.3,815.5 L767.7,812.1 L768.2,815.7 L768.7,811.1 L769.2,814.1 L769.7,812.4 L770.1,813.3 L770.6,818.6 L771.1,813.5 L771.6,809.9 L772.1,812.9 L772.5,811.8 L773.0,814.1 L773.5,814.8 L774.0,814.5 L774.4,813.3 L774.9,811.6 L775.4,815.0 L775.9,816.9 L776.4,812.2 L776.8,813.1 L777.3,813.3 L777.8,816.3 L778.3,815.7 L778.8,811.1 L779.2,814.3 L779.7,809.4 L780.2,811.1 L780.7,814.3 L781.2,815.3 L781.6,815.8 L782.1,813.0 L782.6,810.0 L783.1,815.1 L783.6,813.1 L784.0,816.1 L784.5,815.4 L785.0,816.5 L785.5,816.6 L785.9,816.8 L786.4,813.0 L786.9,816.6 L787.4,812.5 L787.9,814.4 L788.3,818.5 L788.8,814.0 L789.3,810.1 L789.8,818.3 L790.3,817.1 L790.7,817.4 L791.2,815.6 L791.7,816.3 L792.2,814.0 L792.7,813.4 L793.1,819.4 L793.6,814.2 L794.1,813.4 L794.6,814.8 L795.1,821.1 L795.5,819.3 L796.0,815.7 L796.5,817.1 L797.0,819.0 L797.4,820.2 L797.9,813.7 L798.4,821.2 L798.9,817.4 L799.4,816.0 L799.8,816.0 L800.3,819.7 L800.8,822.5 L801.3,818.3 L801.8,819.4 L802.2,815.5 L802.7,818.1 L803.2,819.0 L803.7,813.1 L804.2,815.6 L804.6,818.3 L805.1,811.4 L805.6,814.3 L806.1,817.2 L806.6,811.4 L807.0,814.9 L807.5,816.4 L808.0,819.1 L808.5,813.5 L808.9,819.6 L809.4,817.2 L809.9,818.9 L810.4,818.4 L810.9,816.8 L811.3,817.9 L811.8,812.3 L812.3,812.5 L812.8,813.5 L813.3,814.6 L813.7,818.1 L814.2,811.6 L814.7,814.9 L815.2,812.5 L815.7,811.9 L816.1,818.6 L816.6,815.5 L817.1,818.1 L817.6,817.1 L818.1,812.6 L818.5,811.0 L819.0,819.8 L819.5,813.8 L820.0,811.7 L820.4,815.3 L820.9,813.6 L821.4,812.9 L821.9,813.1 L822.4,813.5 L822.8,812.5 L823.3,813.7 L823.8,810.8 L824.3,809.8 L824.8,811.1 L825.2,810.3 L825.7,810.1 L826.2,806.9 L826.7,806.4 L827.2,803.8 L827.6,807.3 L828.1,801.7 L828.6,803.2 L829.1,800.7 L829.6,801.2 L830.0,800.8 L830.5,796.6 L831.0,796.5 L831.5,793.2 L831.9,794.5 L832.4,790.6 L832.9,787.5 L833.4,785.6 L833.9,784.2 L834.3,781.0 L834.8,777.5 L835.3,772.8 L835.8,768.9 L836.3,765.1 L836.7,759.8 L837.2,754.8 L837.7,749.4 L838.2,743.8 L838.7,738.4 L839.1,732.4 L839.6,726.5 L840.1,720.9 L840.6,715.5 L841.1,710.7 L841.5,706.5 L842.0,703.4 L842.5,701.4 L843.0,700.9 L843.4,701.2 L843.9,702.4 L844.4,704.5 L844.9,707.4 L845.4,710.8 L845.8,714.8 L846.3,718.8 L846.8,723.4 L847.3,728.1 L847.8,732.8 L848.2,737.7 L848.7,742.5 L849.2,747.0 L849.7,751.0 L850.2,755.3 L850.6,760.0 L851.1,763.2 L851.6,767.3 L852.1,770.7 L852.6,773.6 L853.0,776.3 L853.5,779.7 L854.0,781.7 L854.5,784.4 L854.9,786.9 L855.4,788.3 L855.9,790.8 L856.4,792.5 L856.9,793.0 L857.3,795.7 L857.8,796.5 L858.3,796.7 L858.8,799.5 L859.3,800.6 L859.7,801.5 L860.2,801.1 L860.7,805.4 L861.2,806.5 L861.7,807.1 L862.1,807.5 L862.6,805.8 L863.1,808.4 L863.6,807.6 L864.1,812.7 L864.5,809.1 L865.0,811.1 L865.5,808.3 L866.0,809.0 L866.4,810.3 L866.9,812.1 L867.4,812.0 L867.9,811.7 L868.4,808.4 L868.8,812.8 L869.3,810.2 L869.8,814.3 L870.3,815.4 L870.8,814.3 L871.2,815.3 L871.7,812.4 L872.2,818.6 L872.7,815.7 L873.2,817.0 L873.6,814.2 L874.1,815.7 L874.6,814.1 L875.1,815.5 L875.6,815.8 L876.0,816.4 L876.5,818.2 L877.0,816.4 L877.5,816.7 L877.9,816.5 L878.4,819.5 L878.9,815.1 L879.4,817.4 L879.9,812.8 L880.3,814.8 L880.8,816.4 L881.3,815.8 L881.8,820.7 L882.3,820.2 L882.7,813.9 L883.2,815.0 L883.7,816.9 L884.2,820.0 L884.7,819.0 L885.1,818.4 L885.6,815.4 L886.1,816.6 L886.6,813.7 L887.1,815.7 L887.5,819.2 L888.0,820.3 L888.5,816.9 L889.0,819.2 L889.4,821.7 L889.9,819.8 L890.4,818.8 L890.9,820.0 L891.4,819.5 L891.8,818.5 L892.3,817.6 L892.8,817.6 L893.3,818.5 L893.8,817.5 L894.2,821.0 L894.7,820.3 L895.2,821.7 L895.7,823.7 L896.2,822.9 L896.6,822.5 L897.1,820.7 L897.6,819.7 L898.1,823.6 L898.6,818.7 L899.0,818.8 L899.5,817.3 L900.0,818.4 L900.5,818.7 L900.9,819.4 L901.4,818.0 L901.9,815.4 L902.4,818.8 L902.9,819.8 L903.3,818.7 L903.8,819.1 L904.3,820.9 L904.8,822.2 L905.3,820.2 L905.7,818.1 L906.2,819.7 L906.7,820.4 L907.2,817.7 L907.7,821.4 L908.1,819.1 L908.6,821.0 L909.1,821.0 L909.6,820.3 L910.1,823.2 L910.5,819.6 L911.0,819.3 L911.5,820.9 L912.0,821.8 L912.4,820.1 L912.9,818.8 L913.4,821.3 L913.9,821.1 L914.4,823.8 L914.8,819.9 L915.3,820.6 L915.8,819.5 L916.3,818.3 L916.8,821.2 L917.2,822.4 L917.7,819.7 L918.2,819.8 L918.7,818.6 L919.2,823.4 L919.6,820.6 L920.1,822.4 L920.6,820.2 L921.1,821.8 L921.6,820.3 L922.0,817.2 L922.5,821.6 L923.0,822.5 L923.5,818.5 L923.9,821.4 L924.4,821.4 L924.9,820.0 L925.4,820.9 L925.9,818.4 L926.3,822.3 L926.8,824.1 L927.3,820.1 L927.8,821.6 L928.3,823.3 L928.7,821.4 L929.2,820.2 L929.7,820.1 L930.2,822.2 L930.7,821.2 L931.1,821.8 L931.6,818.7 L932.1,823.2 L932.6,821.3 L933.1,822.5 L933.5,820.7 L934.0,819.8 L934.5,820.5 L935.0,820.0 L935.4,821.4 L935.9,822.9 L936.4,823.2 L936.9,821.9 L937.4,821.1 L937.8,821.4 L938.3,822.8 L938.8,824.0 L939.3,821.5 L939.8,821.7 L940.2,820.7 L940.7,822.5 L941.2,823.7 L941.7,817.5 L942.2,822.5 L942.6,821.1 L943.1,818.0 L943.6,822.8 L944.1,822.0 L944.6,822.6 L945.0,819.9 L945.5,825.4 L946.0,822.2 L946.5,821.0 L946.9,824.3 L947.4,822.9 L947.9,823.3 L948.4,823.7 L948.9,818.4 L949.3,824.2 L949.8,821.3 L950.3,822.3 L950.8,823.5 L951.3,820.3 L951.7,822.5 L952.2,822.9 L952.7,822.0 L953.2,823.0 L953.7,819.6 L954.1,820.2 L954.6,820.3 L955.1,823.1 L955.6,828.8 L956.1,822.7 L956.5,822.2 L957.0,822.3 L957.5,823.9 L958.0,823.0 L958.4,819.7 L958.9,823.1 L959.4,821.1 L959.9,822.4 L960.4,818.3 L960.8,818.9 L961.3,822.1 L961.8,818.4 L962.3,822.7 L962.8,822.7 L963.2,822.0 L963.7,822.2 L964.2,822.1 L964.7,822.2 L965.2,820.5 L965.6,821.3 L966.1,825.9 L966.6,823.1 L967.1,822.4 L967.6,822.5 L968.0,820.8 L968.5,821.8 L969.0,821.0 L969.5,823.6 L969.9,820.3 L970.4,818.2 L970.9,820.6 L971.4,822.2 L971.9,825.0 L972.3,822.7 L972.8,819.8 L973.3,820.9 L973.8,819.4 L974.3,821.1 L974.7,819.5 L975.2,818.7 L975.7,822.4 L976.2,822.2 L976.7,821.3 L977.1,822.3 L977.6,825.0 L978.1,821.9 L978.6,820.8 L979.1,822.9 L979.5,818.5 L980.0,822.1 L980.5,819.5 L981.0,820.1 L981.4,821.3 L981.9,824.2 L982.4,820.4 L982.9,823.5 L983.4,822.5 L983.8,819.8 L984.3,823.7 L984.8,820.9 L985.3,819.7 L985.8,821.0 L986.2,821.0 L986.7,823.2 L987.2,820.7 L987.7,824.5 L988.2,822.3 L988.6,821.0 L989.1,821.0 L989.6,822.8 L990.1,819.0 L990.6,818.6 L991.0,821.1 L991.5,823.8 L992.0,822.8 L992.5,822.8 L992.9,822.2 L993.4,818.8 L993.9,821.5 L994.4,819.0 L994.9,823.1 L995.3,821.0 L995.8,820.4 L996.3,821.4 L996.8,820.9 L997.3,820.8 L997.7,821.3 L998.2,819.8 L998.7,818.7 L999.2,821.6 L999.7,823.4 L1000.1,823.4 L1000.6,820.9 L1001.1,821.9 L1001.6,819.8 L1002.1,821.0 L1002.5,819.6 L1003.0,820.7 L1003.5,823.5 L1004.0,821.5 L1004.4,822.3 L1004.9,819.7 L1005.4,819.8 L1005.9,821.5 L1006.4,822.5 L1006.8,821.1 L1007.3,823.2 L1007.8,820.6 L1008.3,823.8 L1008.8,823.2 L1009.2,819.5 L1009.7,822.5 L1010.2,820.8 L1010.7,822.4 L1011.2,819.9 L1011.6,821.3 L1012.1,821.5 L1012.6,816.2 L1013.1,817.5 L1013.6,820.5 L1014.0,820.0 L1014.5,821.7 L1015.0,820.6 L1015.5,818.7 L1015.9,820.8 L1016.4,819.4 L1016.9,820.0 L1017.4,819.4 L1017.9,821.0 L1018.3,818.4 L1018.8,818.9 L1019.3,817.1 L1019.8,823.3 L1020.3,818.4 L1020.7,818.3 L1021.2,817.8 L1021.7,819.0 L1022.2,819.0 L1022.7,820.2 L1023.1,819.7 L1023.6,819.9 L1024.1,818.7 L1024.6,819.8 L1025.1,821.7 L1025.5,819.8 L1026.0,819.8 L1026.5,815.9 L1027.0,820.0 L1027.4,819.2 L1027.9,820.8 L1028.4,814.4 L1028.9,818.3 L1029.4,818.4 L1029.8,818.1 L1030.3,816.9 L1030.8,818.2 L1031.3,818.9 L1031.8,818.0 L1032.2,817.1 L1032.7,817.2 L1033.2,816.7 L1033.7,817.1 L1034.2,816.2 L1034.6,814.1 L1035.1,818.9 L1035.6,814.1 L1036.1,815.9 L1036.6,814.0 L1037.0,815.0 L1037.5,813.8 L1038.0,814.2 L1038.5,812.7 L1038.9,811.5 L1039.4,813.5 L1039.9,814.4 L1040.4,812.7 L1040.9,811.8 L1041.3,809.6 L1041.8,810.5 L1042.3,811.0 L1042.8,809.0 L1043.3,811.1 L1043.7,809.3 L1044.2,809.6 L1044.7,807.9 L1045.2,807.1 L1045.7,807.5 L1046.1,807.0 L1046.6,806.1 L1047.1,803.8 L1047.6,802.8 L1048.1,801.8 L1048.5,798.5 L1049.0,799.8 L1049.5,797.5 L1050.0,795.3 L1050.4,792.4 L1050.9,790.7 L1051.4,786.8 L1051.9,784.4 L1052.4,780.0 L1052.8,775.0 L1053.3,770.7 L1053.8,764.9 L1054.3,758.9 L1054.8,752.1 L1055.2,744.6 L1055.7,736.4 L1056.2,727.5 L1056.7,717.7 L1057.2,707.2 L1057.6,696.2 L1058.1,684.7 L1058.6,673.0 L1059.1,661.3 L1059.6,649.9 L1060.0,639.1 L1060.5,629.7 L1061.0,622.0 L1061.5,616.6 L1061.9,613.8 L1062.4,613.8 L1062.9,616.6 L1063.4,622.0 L1063.9,629.7 L1064.3,639.1 L1064.8,649.8 L1065.3,661.1 L1065.8,672.9 L1066.3,684.7 L1066.7,696.1 L1067.2,707.2 L1067.7,717.5 L1068.2,727.4 L1068.7,736.2 L1069.1,744.6 L1069.6,752.3 L1070.1,759.3 L1070.6,764.9 L1071.1,770.7 L1071.5,774.8 L1072.0,779.3 L1072.5,783.0 L1073.0,786.5 L1073.4,790.0 L1073.9,792.9 L1074.4,793.5 L1074.9,797.2 L1075.4,797.6 L1075.8,801.8 L1076.3,801.6 L1076.8,802.8 L1077.3,803.4 L1077.8,804.4 L1078.2,805.0 L1078.7,805.0 L1079.2,807.3 L1079.7,807.2 L1080.2,808.7 L1080.6,808.4 L1081.1,810.0 L1081.6,808.5 L1082.1,815.1 L1082.6,809.9 L1083.0,810.7 L1083.5,813.2 L1084.0,814.2 L1084.5,811.7 L1084.9,810.6 L1085.4,811.1 L1085.9,812.2 L1086.4,812.6 L1086.9,813.9 L1087.3,816.2 L1087.8,816.7 L1088.3,814.6 L1088.8,816.3 L1089.3,817.2 L1089.7,818.2 L1090.2,816.2 L1090.7,815.5 L1091.2,817.7 L1091.7,818.6 L1092.1,815.5 L1092.6,819.0 L1093.1,818.3 L1093.6,815.6 L1094.1,813.8 L1094.5,815.4 L1095.0,816.1 L1095.5,817.9 L1096.0,814.9 L1096.4,821.2 L1096.9,821.2 L1097.4,816.6 L1097.9,814.3 L1098.4,817.1 L1098.8,818.1 L1099.3,819.4 L1099.8,818.2 L1100.3,816.9 L1100.8,814.2 L1101.2,818.3 L1101.7,819.3 L1102.2,817.7 L1102.7,818.4 L1103.2,818.2 L1103.6,817.9 L1104.1,817.0 L1104.6,819.3 L1105.1,816.7 L1105.6,821.1 L1106.0,817.7 L1106.5,820.2 L1107.0,818.7 L1107.5,820.2 L1107.9,819.4 L1108.4,820.2 L1108.9,817.9 L1109.4,817.0 L1109.9,819.0 L1110.3,818.9 L1110.8,816.9 L1111.3,818.3 L1111.8,816.4 L1112.3,819.0 L1112.7,817.9 L1113.2,819.1 L1113.7,823.2 L1114.2,819.7 L1114.7,819.9 L1115.1,820.7 L1115.6,819.7 L1116.1,819.7 L1116.6,821.9 L1117.1,822.8 L1117.5,815.9 L1118.0,819.8 L1118.5,819.4 L1119.0,819.2 L1119.4,822.1 L1119.9,818.8 L1120.4,820.7 L1120.9,818.3 L1121.4,818.2 L1121.8,820.4 L1122.3,818.4 L1122.8,819.4 L1123.3,817.6 L1123.8,817.9 L1124.2,820.4 L1124.7,820.7 L1125.2,818.2 L1125.7,818.1 L1126.2,823.9 L1126.6,818.8 L1127.1,818.3 L1127.6,821.4 L1128.1,819.5 L1128.6,820.1 L1129.0,821.8 L1129.5,822.3 L1130.0,820.6 L1130.5,823.4 L1130.9,820.8 L1131.4,820.4 L1131.9,819.9 L1132.4,819.4 L1132.9,820.8 L1133.3,820.5 L1133.8,818.7 L1134.3,819.7 L1134.8,818.0 L1135.3,818.0 L1135.7,818.9 L1136.2,821.0 L1136.7,819.9 L1137.2,821.6 L1137.7,822.1 L1138.1,819.5 L1138.6,818.6 L1139.1,819.1 L1139.6,820.8 L1140.1,821.7 L1140.5,823.2 L1141.0,818.2 L1141.5,821.6 L1142.0,821.6 L1142.4,823.7 L1142.9,820.3 L1143.4,819.7 L1143.9,817.1 L1144.4,818.4 L1144.8,817.8 L1145.3,818.2 L1145.8,818.6 L1146.3,817.9 L1146.8,820.1 L1147.2,820.6 L1147.7,821.2 L1148.2,819.7 L1148.7,821.6 L1149.2,821.5 L1149.6,817.3 L1150.1,819.2 L1150.6,817.7 L1151.1,818.1 L1151.6,820.5 L1152.0,820.1 L1152.5,823.1 L1153.0,824.2 L1153.5,821.6 L1153.9,820.6 L1154.4,821.1 L1154.9,821.3 L1155.4,822.5 L1155.9,820.6 L1156.3,822.2 L1156.8,820.7 L1157.3,822.7 L1157.8,823.2 L1158.3,824.1 L1158.7,820.8 L1159.2,819.0 L1159.7,818.2 L1160.2,820.2 L1160.7,818.6 L1161.1,818.4 L1161.6,820.4 L1162.1,819.4 L1162.6,821.9 L1163.1,824.2 L1163.5,820.6 L1164.0,821.5 L1164.5,818.7 L1165.0,821.8 L1165.4,820.3 L1165.9,819.8 L1166.4,818.1 L1166.9,823.6 L1167.4,818.0 L1167.8,819.0 L1168.3,821.1 L1168.8,821.7 L1169.3,821.3 L1169.8,820.9 L1170.2,818.9 L1170.7,821.7 L1171.2,820.5 L1171.7,818.0 L1172.2,821.9 L1172.6,818.6 L1173.1,820.1 L1173.6,816.1 L1174.1,816.2 L1174.6,816.8 L1175.0,816.4 L1175.5,818.1 L1176.0,813.6 L1176.5,816.1 L1176.9,813.8 L1177.4,815.4 L1177.9,814.8 L1178.4,813.7 L1178.9,817.6 L1179.3,814.3 L1179.8,816.5 L1180.3,813.3 L1180.8,815.3 L1181.3,816.2 L1181.7,816.5 L1182.2,816.1 L1182.7,815.4 L1183.2,812.1 L1183.7,816.6 L1184.1,816.3 L1184.6,816.9 L1185.1,819.2 L1185.6,821.0 L1186.1,818.2 L1186.5,818.5 L1187.0,818.2 L1187.5,818.3 L1188.0,817.7 L1188.4,816.5 L1188.9,816.3 L1189.4,816.7 L1189.9,819.1 L1190.4,817.6 L1190.8,819.0 L1191.3,814.2 L1191.8,816.1 L1192.3,816.1 L1192.8,815.7 L1193.2,812.7 L1193.7,811.1 L1194.2,809.8 L1194.7,811.4 L1195.2,814.1 L1195.6,810.7 L1196.1,808.2 L1196.6,809.0 L1197.1,807.2 L1197.6,806.7 L1198.0,805.2 L1198.5,802.9 L1199.0,802.4 L1199.5,802.0 L1199.9,799.7 L1200.4,798.1 L1200.9,793.9 L1201.4,792.4 L1201.9,788.8 L1202.3,785.4 L1202.8,782.0 L1203.3,777.0 L1203.8,772.5 L1204.3,767.7 L1204.7,762.3 L1205.2,756.6 L1205.7,750.6 L1206.2,744.1 L1206.7,737.3 L1207.1,730.7 L1207.6,723.6 L1208.1,716.9 L1208.6,710.3 L1209.1,704.2 L1209.5,699.1 L1210.0,695.0 L1210.5,692.1 L1211.0,690.5 L1211.4,690.5 L1211.9,691.7 L1212.4,693.9 L1212.9,697.0 L1213.4,701.0 L1213.8,705.7 L1214.3,710.8 L1214.8,716.6 L1215.3,722.2 L1215.8,728.2 L1216.2,734.2 L1216.7,739.7 L1217.2,745.8 L1217.7,751.2 L1218.2,756.5 L1218.6,761.4 L1219.1,765.8 L1219.6,770.7 L1220.1,774.8 L1220.6,778.9 L1221.0,782.2 L1221.5,784.5 L1222.0,788.7 L1222.5,791.4 L1222.9,793.8 L1223.4,795.8 L1223.9,796.9 L1224.4,800.1 L1224.9,801.0 L1225.3,805.6 L1225.8,803.9 L1226.3,804.4 L1226.8,806.3 L1227.3,809.3 L1227.7,807.9 L1228.2,806.6 L1228.7,812.0 L1229.2,811.6 L1229.7,811.1 L1230.1,813.5 L1230.6,811.8 L1231.1,812.2 L1231.6,815.2 L1232.1,813.9 L1232.5,815.3 L1233.0,814.7 L1233.5,815.8 L1234.0,815.4 L1234.4,812.2 L1234.9,816.6 L1235.4,814.7 L1235.9,817.6 L1236.4,816.7 L1236.8,819.7 L1237.3,818.0 L1237.8,815.6 L1238.3,818.4 L1238.8,819.9 L1239.2,819.1 L1239.7,819.3 L1240.2,822.5 L1240.7,820.2 L1241.2,821.8 L1241.6,820.0 L1242.1,818.0 L1242.6,818.8 L1243.1,820.1 L1243.6,820.9 L1244.0,819.4 L1244.5,818.2 L1245.0,818.8 L1245.5,819.6 L1245.9,819.2 L1246.4,819.6 L1246.9,823.7 L1247.4,821.5 L1247.9,819.6 L1248.3,821.0 L1248.8,823.4 L1249.3,822.3 L1249.8,821.1 L1250.3,819.5 L1250.7,819.1 L1251.2,821.1 L1251.7,821.3 L1252.2,819.0 L1252.7,819.4 L1253.1,821.6 L1253.6,818.3 L1254.1,819.6 L1254.6,822.3 L1255.1,823.4 L1255.5,822.8 L1256.0,824.1 L1256.5,825.0 L1257.0,823.8 L1257.4,822.0 L1257.9,825.5 L1258.4,824.6 L1258.9,823.4 L1259.4,820.4 L1259.8,822.4 L1260.3,818.0 L1260.8,821.7 L1261.3,818.3 L1261.8,821.6 L1262.2,824.1 L1262.7,822.8 L1263.2,825.0 L1263.7,822.4 L1264.2,822.7 L1264.6,822.1 L1265.1,822.6 L1265.6,821.4 L1266.1,823.3 L1266.6,823.9 L1267.0,822.0 L1267.5,819.6 L1268.0,822.4 L1268.5,824.0 L1268.9,822.6 L1269.4,822.5 L1269.9,823.8 L1270.4,824.1 L1270.9,818.0 L1271.3,824.3 L1271.8,822.9 L1272.3,822.6 L1272.8,821.0 L1273.3,822.7 L1273.7,823.2 L1274.2,819.9 L1274.7,823.6 L1275.2,822.5 L1275.7,824.6 L1276.1,823.6 L1276.6,822.4 L1277.1,822.1 L1277.6,822.8 L1278.1,822.1 L1278.5,822.7 L1279.0,820.5 L1279.5,819.8 L1280.0,820.8 L1280.4,819.3 L1280.9,819.9 L1281.4,821.8 L1281.9,818.5 L1282.4,818.9 L1282.8,821.5 L1283.3,819.2 L1283.8,819.3 L1284.3,817.1 L1284.8,817.0 L1285.2,818.1 L1285.7,820.7 L1286.2,818.6 L1286.7,814.9 L1287.2,817.3 L1287.6,817.6 L1288.1,816.8 L1288.6,813.2 L1289.1,813.8 L1289.6,815.1 L1290.0,810.0 L1290.5,809.8 L1291.0,806.9 L1291.5,805.2 L1291.9,804.6 L1292.4,804.3 L1292.9,802.9 L1293.4,799.8 L1293.9,799.4 L1294.3,798.3 L1294.8,797.0 L1295.3,799.2 L1295.8,800.3 L1296.3,801.0 L1296.7,800.3 L1297.2,803.0 L1297.7,804.3 L1298.2,804.2 L1298.7,805.7 L1299.1,806.8 L1299.6,808.8 L1300.1,811.9 L1300.6,809.6 L1301.1,810.4 L1301.5,814.5 L1302.0,814.4 L1302.5,812.6 L1303.0,814.6 L1303.4,815.4 L1303.9,816.1 L1304.4,817.7 L1304.9,819.1 L1305.4,818.0 L1305.8,818.5 L1306.3,817.2 L1306.8,819.8 L1307.3,820.6 L1307.8,818.1 L1308.2,817.5 L1308.7,821.9 L1309.2,820.3 L1309.7,817.1 L1310.2,815.3 L1310.6,817.3 L1311.1,819.2 L1311.6,816.2 L1312.1,816.3 L1312.6,815.1 L1313.0,816.3 L1313.5,816.7 L1314.0,812.8 L1314.5,814.2 L1314.9,813.6 L1315.4,812.6 L1315.9,811.5 L1316.4,814.1 L1316.9,813.3 L1317.3,813.7 L1317.8,813.8 L1318.3,810.7 L1318.8,811.0 L1319.3,809.0 L1319.7,808.5 L1320.2,807.8 L1320.7,805.7 L1321.2,802.8 L1321.7,804.0 L1322.1,801.3 L1322.6,798.4 L1323.1,795.5 L1323.6,794.6 L1324.1,792.0 L1324.5,789.0 L1325.0,785.6 L1325.5,781.3 L1326.0,777.4 L1326.4,772.1 L1326.9,767.7 L1327.4,762.6 L1327.9,756.8 L1328.4,751.2 L1328.8,745.3 L1329.3,739.2 L1329.8,733.3 L1330.3,727.2 L1330.8,721.9 L1331.2,716.7 L1331.7,712.6 L1332.2,709.4 L1332.7,707.5 L1333.2,706.8 L1333.6,707.5 L1334.1,709.4 L1334.6,712.7 L1335.1,716.6 L1335.6,721.5 L1336.0,727.0 L1336.5,732.8 L1337.0,738.7 L1337.5,744.6 L1337.9,750.5 L1338.4,756.3 L1338.9,761.9 L1339.4,767.1 L1339.9,771.8 L1340.3,776.5 L1340.8,780.2 L1341.3,784.2 L1341.8,788.3 L1342.3,791.2 L1342.7,794.2 L1343.2,795.6 L1343.7,798.3 L1344.2,799.4 L1344.7,802.5 L1345.1,803.1 L1345.6,803.3 L1346.1,804.6 L1346.6,806.1 L1347.1,804.4 L1347.5,805.4 L1348.0,807.9 L1348.5,807.1 L1349.0,807.0 L1349.4,805.3 L1349.9,808.7 L1350.4,808.1 L1350.9,807.4 L1351.4,805.1 L1351.8,806.3 L1352.3,805.8 L1352.8,803.6 L1353.3,802.5 L1353.8,800.9 L1354.2,800.0 L1354.7,797.5 L1355.2,795.6 L1355.7,792.8 L1356.2,790.5 L1356.6,789.2 L1357.1,786.7 L1357.6,783.5 L1358.1,781.0 L1358.6,777.5 L1359.0,775.0 L1359.5,772.6 L1360.0,770.2 L1360.5,768.7 L1360.9,766.7 L1361.4,766.1 L1361.9,765.9 L1362.4,766.2 L1362.9,767.4 L1363.3,768.0 L1363.8,770.4 L1364.3,772.4 L1364.8,774.4 L1365.3,777.2 L1365.7,780.1 L1366.2,782.0 L1366.7,785.0 L1367.2,787.5 L1367.7,790.2 L1368.1,792.3 L1368.6,794.4 L1369.1,797.3 L1369.6,798.6 L1370.1,801.7 L1370.5,803.6 L1371.0,804.1 L1371.5,806.3 L1372.0,807.3 L1372.4,808.3 L1372.9,811.2 L1373.4,811.5 L1373.9,813.1 L1374.4,811.3 L1374.8,815.6 L1375.3,813.8 L1375.8,816.3 L1376.3,820.1 L1376.8,820.9 L1377.2,818.5 L1377.7,818.1 L1378.2,820.5 L1378.7,819.6 L1379.2,820.8 L1379.6,818.8 L1380.1,822.5 L1380.6,823.7 L1381.1,819.6 L1381.6,821.0 L1382.0,820.8 L1382.5,823.2 L1383.0,819.5 L1383.5,823.0 L1383.9,822.7 L1384.4,822.3 L1384.9,824.3 L1385.4,820.6 L1385.9,821.4 L1386.3,822.9 L1386.8,825.3 L1387.3,823.8 L1387.8,823.3 L1388.3,825.3 L1388.7,823.4 L1389.2,823.5 L1389.7,823.8 L1390.2,825.3 L1390.7,828.5 L1391.1,823.2 L1391.6,825.8 L1392.1,825.3 L1392.6,825.5 L1393.1,828.6 L1393.5,827.4 L1394.0,827.8 L1394.5,825.8 L1395.0,825.5 L1395.4,827.1 L1395.9,826.1 L1396.4,825.6 L1396.9,826.9 L1397.4,824.1 L1397.8,825.0 L1398.3,827.5 L1398.8,826.6 L1399.3,827.9 L1399.8,825.5 L1400.2,827.9 L1400.7,825.8 L1401.2,829.5 L1401.7,828.9 L1402.2,828.5 L1402.6,830.2 L1403.1,828.1 L1403.6,826.7 L1404.1,830.4 L1404.6,828.6 L1405.0,830.3 L1405.5,829.0 L1406.0,830.3 L1406.5,827.1 L1406.9,826.2 L1407.4,826.5 L1407.9,830.1 L1408.4,826.0 L1408.9,826.5 L1409.3,826.8 L1409.8,829.3 L1410.3,830.1 L1410.8,828.5 L1411.3,831.5 L1411.7,830.5 L1412.2,831.9 L1412.7,831.6 L1413.2,828.9 L1413.7,830.7 L1414.1,830.0 L1414.6,830.8 L1415.1,830.3 L1415.6,829.9 L1416.1,831.1 L1416.5,830.2 L1417.0,831.0 L1417.5,830.1 L1418.0,829.4 L1418.4,831.4 L1418.9,831.5 L1419.4,831.8 L1419.9,830.4 L1420.4,829.1 L1420.8,829.6 L1421.3,829.4 L1421.8,826.4 L1422.3,827.6 L1422.8,831.6 L1423.2,828.9 L1423.7,824.5 L1424.2,828.9 L1424.7,828.6 L1425.2,826.0 L1425.6,832.0 L1426.1,830.4 L1426.6,829.7 L1427.1,827.9 L1427.6,829.1 L1428.0,829.7 L1428.5,829.4 L1429.0,828.4 L1429.5,829.9 L1429.9,829.3 L1430.4,829.0 L1430.9,826.8 L1431.4,828.6 L1431.9,827.9 L1432.3,827.9 L1432.8,827.6 L1433.3,824.4 L1433.8,827.6 L1434.3,827.0 L1434.7,823.9 L1435.2,825.3 L1435.7,824.3 L1436.2,824.5 L1436.7,826.0 L1437.1,824.4 L1437.6,826.3 L1438.1,823.2 L1438.6,821.7 L1439.1,822.8 L1439.5,819.0 L1440.0,824.5 L1440.5,822.0 L1441.0,822.7 L1441.4,822.3 L1441.9,820.5 L1442.4,821.6 L1442.9,820.3 L1443.4,820.5 L1443.8,821.5 L1444.3,819.4 L1444.8,823.2 L1445.3,819.5 L1445.8,822.1 L1446.2,820.5 L1446.7,819.3 L1447.2,821.6 L1447.7,821.8 L1448.2,821.8 L1448.6,821.9 L1449.1,821.2 L1449.6,822.9 L1450.1,822.3 L1450.6,823.6 L1451.0,825.3 L1451.5,821.7 L1452.0,823.2 L1452.5,823.3 L1452.9,823.9 L1453.4,823.9 L1453.9,825.6 L1454.4,826.4 L1454.9,826.2 L1455.3,824.5 L1455.8,828.3 L1456.3,828.3 L1456.8,827.9 L1457.3,826.5 L1457.7,826.7 L1458.2,831.6 L1458.7,831.2 L1459.2,829.6 L1459.7,827.8 L1460.1,831.8 L1460.6,830.5 L1461.1,832.5 L1461.6,829.2 L1462.1,830.8 L1462.5,829.9 L1463.0,831.6 L1463.5,829.1 L1464.0,831.2 L1464.4,829.4 L1464.9,829.3 L1465.4,831.9 L1465.9,830.9 L1466.4,827.5 L1466.8,830.4 L1467.3,830.9 L1467.8,831.4 L1468.3,834.9 L1468.8,830.6 L1469.2,831.0 L1469.7,828.6 L1470.2,829.5 L1470.7,830.9 L1471.2,831.7 L1471.6,831.5 L1472.1,832.6 L1472.6,832.9 L1473.1,833.2 L1473.6,831.2 L1474.0,832.2 L1474.5,830.5 L1475.0,831.9 L1475.5,832.1 L1475.9,830.5 L1476.4,826.4 L1476.9,830.5 L1477.4,835.6 L1477.9,831.7 L1478.3,830.2 L1478.8,831.4 L1479.3,832.8 L1479.8,831.9 L1480.3,831.0 L1480.7,829.7 L1481.2,831.2 L1481.7,830.0 L1482.2,831.9 L1482.7,833.9 L1483.1,833.4 L1483.6,830.8 L1484.1,830.3 L1484.6,829.6 L1485.1,832.2 L1485.5,832.2 L1486.0,832.6 L1486.5,832.5 L1487.0,830.5 L1487.4,829.0 L1487.9,833.7 L1488.4,830.5 L1488.9,835.1 L1489.4,828.7 L1489.8,830.2 L1490.3,830.6 L1490.8,832.3 L1491.3,832.6 L1491.8,830.7 L1492.2,833.0 L1492.7,829.9 L1493.2,831.2 L1493.7,829.9 L1494.2,831.2 L1494.6,831.1 L1495.1,832.7 L1495.6,837.6 L1496.1,829.8 L1496.6,831.3 L1497.0,832.7 L1497.5,831.8 L1498.0,833.4 L1498.5,829.8 L1498.9,832.6 L1499.4,830.0 L1499.9,833.2 L1500.4,832.3 L1500.9,832.5 L1501.3,831.2 L1501.8,829.4 L1502.3,831.3 L1502.8,834.3 L1503.3,832.3 L1503.7,834.0 L1504.2,830.2 L1504.7,833.5 L1505.2,834.3 L1505.7,829.5 L1506.1,833.2 L1506.6,835.6 L1507.1,831.1 L1507.6,833.9 L1508.1,832.7 L1508.5,834.3 L1509.0,832.6 L1509.5,832.1 L1510.0,832.1 L1510.4,832.1 L1510.9,831.8 L1511.4,831.6 L1511.9,835.1 L1512.4,832.1 L1512.8,831.2 L1513.3,831.1 L1513.8,833.2 L1514.3,828.8 L1514.8,833.5 L1515.2,833.8 L1515.7,834.7 L1516.2,831.7 L1516.7,830.6 L1517.2,831.8 L1517.6,832.0 L1518.1,834.0 L1518.6,832.4 L1519.1,831.7 L1519.6,830.0 L1520.0,831.8 L1520.5,832.0 L1521.0,834.4 L1521.5,832.4 L1521.9,834.5 L1522.4,833.8 L1522.9,830.5 L1523.4,830.0 L1523.9,830.9 L1524.3,831.5 L1524.8,831.2 L1525.3,832.9 L1525.8,832.9 L1526.3,833.6 L1526.7,832.4 L1527.2,831.0 L1527.7,832.6 L1528.2,830.9 L1528.7,832.6 L1529.1,830.7 L1529.6,834.5 L1530.1,828.8 L1530.6,834.4 L1531.1,835.0 L1531.5,833.2 L1532.0,833.5 L1532.5,832.8 L1533.0,834.6 L1533.4,835.3 L1533.9,832.4 L1534.4,834.7 L1534.9,831.1 L1535.4,832.4 L1535.8,833.4 L1536.3,830.6 L1536.8,833.1 L1537.3,830.8 L1537.8,833.0 L1538.2,830.3 L1538.7,828.5 L1539.2,828.9 L1539.7,830.8 L1540.2,830.1 L1540.6,829.0 L1541.1,826.9 L1541.6,829.2 L1542.1,826.4 L1542.6,826.0 L1543.0,827.5 L1543.5,825.0 L1544.0,821.2 L1544.5,823.8 L1544.9,822.0 L1545.4,820.3 L1545.9,821.3 L1546.4,817.8 L1546.9,818.5 L1547.3,817.0 L1547.8,818.8 L1548.3,814.0 L1548.8,816.2 L1549.3,816.4 L1549.7,817.3 L1550.2,816.1 L1550.7,816.9 L1551.2,820.0 L1551.7,818.6 L1552.1,820.8 L1552.6,821.1 L1553.1,822.4 L1553.6,821.4 L1554.1,823.5 L1554.5,825.0 L1555.0,825.8 L1555.5,828.3 L1556.0,827.8 L1556.4,828.7 L1556.9,828.4 L1557.4,831.2 L1557.9,828.5 L1558.4,829.7 L1558.8,827.9 L1559.3,829.0 L1559.8,832.1 L1560.3,831.5 L1560.8,828.8 L1561.2,831.5 L1561.7,831.2 L1562.2,830.0 L1562.7,833.2 L1563.2,832.4 L1563.6,832.6 L1564.1,833.8 L1564.6,831.4 L1565.1,834.2 L1565.6,832.7 L1566.0,832.6 L1566.5,835.6 L1567.0,833.8 L1567.5,832.6 L1567.9,833.4 L1568.4,834.2 L1568.9,831.2 L1569.4,834.8 L1569.9,832.8 L1570.3,831.3 L1570.8,831.6 L1571.3,834.4 L1571.8,830.9 L1572.3,836.3 L1572.7,831.0 L1573.2,833.2 L1573.7,828.6 L1574.2,833.3 L1574.7,832.2 L1575.1,833.8 L1575.6,833.7 L1576.1,833.0 L1576.6,837.0 L1577.1,835.5 L1577.5,833.0 L1578.0,834.5 L1578.5,829.0 L1579.0,832.9 L1579.4,835.7 L1579.9,832.7 L1580.4,833.2 L1580.9,831.4 L1581.4,833.8 L1581.8,832.7 L1582.3,831.9 L1582.8,834.0 L1583.3,835.3 L1583.8,833.9 L1584.2,830.0 L1584.7,833.4 L1585.2,832.8 L1585.7,830.7 L1586.2,830.2 L1586.6,832.7 L1587.1,832.7 L1587.6,832.7 L1588.1,831.4 L1588.6,832.9 L1589.0,833.4 L1589.5,832.9 L1590.0,834.0 L1590.5,832.5 L1590.9,830.7 L1591.4,832.9 L1591.9,834.7 L1592.4,837.7 L1592.9,829.6 L1593.3,832.0 L1593.8,831.7 L1594.3,833.6 L1594.8,831.8 L1595.3,833.7 L1595.7,835.9 L1596.2,833.0 L1596.7,834.6 L1597.2,837.8 L1597.7,836.9 L1598.1,832.6 L1598.6,838.3 L1599.1,833.9 L1599.6,836.1 L1600.1,834.5 L1600.5,835.0 L1601.0,834.5 L1601.5,836.7 L1602.0,834.3 L1602.4,833.5 L1602.9,835.0 L1603.4,836.1 L1603.9,832.2 L1604.4,836.3 L1604.8,833.4 L1605.3,835.5 L1605.8,836.5 L1606.3,835.3 L1606.8,835.6 L1607.2,834.3 L1607.7,833.9 L1608.2,832.2 L1608.7,834.8 L1609.2,834.7 L1609.6,832.2 L1610.1,836.4 L1610.6,838.2 L1611.1,836.4 L1611.6,836.8 L1612.0,834.2 L1612.5,832.7 L1613.0,834.6 L1613.5,833.4 L1613.9,831.6 L1614.4,835.1 L1614.9,833.9 L1615.4,832.7 L1615.9,834.6 L1616.3,834.2 L1616.8,835.7 L1617.3,837.6 L1617.8,834.2 L1618.3,833.4 L1618.7,837.3 L1619.2,838.5 L1619.7,833.6 L1620.2,833.3 L1620.7,833.0 L1621.1,834.8 L1621.6,835.0 L1622.1,834.4 L1622.6,836.0 L1623.1,833.4 L1623.5,833.6 L1624.0,832.6 L1624.5,836.6 L1625.0,836.1 L1625.4,836.6 L1625.9,833.1 L1626.4,836.8"/>
<path stroke="#ff0000" stroke-width="3" d="M573.0,142 V438 M528.2,468 V648"/>
</g>
<text transform="matrix(0.5533,0,0,0.5606,1320.57,132.34)" font-size="100">ZnO</text>
<text transform="matrix(0.5460,0,0,0.5710,1322.11,196.83)" font-size="100">GO/ZnO</text>
<text transform="matrix(0.8460,0,0,0.7366,650.90,1196.79)" font-size="100">2 theta (degree)</text>
<text transform="matrix(0.5160,0,0,0.4933,166.12,1112.31)" font-size="100">20</text>
<text transform="matrix(0.5160,0,0,0.4933,406.00,1112.31)" font-size="100">30</text>
<text transform="matrix(0.5160,0,0,0.4933,645.75,1112.31)" font-size="100">40</text>
<text transform="matrix(0.5160,0,0,0.4933,884.99,1112.31)" font-size="100">50</text>
<text transform="matrix(0.5160,0,0,0.4933,1123.91,1112.31)" font-size="100">60</text>
<text transform="matrix(0.5160,0,0,0.4933,1364.08,1112.31)" font-size="100">70</text>
<text transform="matrix(0.5160,0,0,0.4933,1602.53,1112.31)" font-size="100">80</text>
<text transform="matrix(0,-0.7899,0.8604,0,97.50,792.57)" font-size="100">Intensity(a.u.)</text>
<text transform="matrix(0,-0.4481,0.4485,0,470.17,341.90)" font-size="100">(100)</text>
<text transform="matrix(0,-0.4394,0.4771,0,534.86,446.87)" font-size="100">(002)</text>
<text transform="matrix(0,-0.4399,0.4485,0,622.67,162.17)" font-size="100">(101)</text>
<text transform="matrix(0,-0.4437,0.4815,0,855.07,688.89)" font-size="100">(102)</text>
<text transform="matrix(0,-0.4523,0.4694,0,1074.52,597.92)" font-size="100">(110)</text>
<text transform="matrix(0,-0.4466,0.4705,0,1223.70,679.60)" font-size="100">(103)</text>
<text transform="matrix(0,-0.4380,0.4628,0,1303.77,785.56)" font-size="100">(200)</text>
<text transform="matrix(0,-0.4494,0.4584,0,1337.76,688.71)" font-size="100">(112)</text>
<text transform="matrix(0,-0.4327,0.4628,0,1384.57,753.54)" font-size="100">(201)</text>
</g>
</svg>
</figure></main></body></html>
